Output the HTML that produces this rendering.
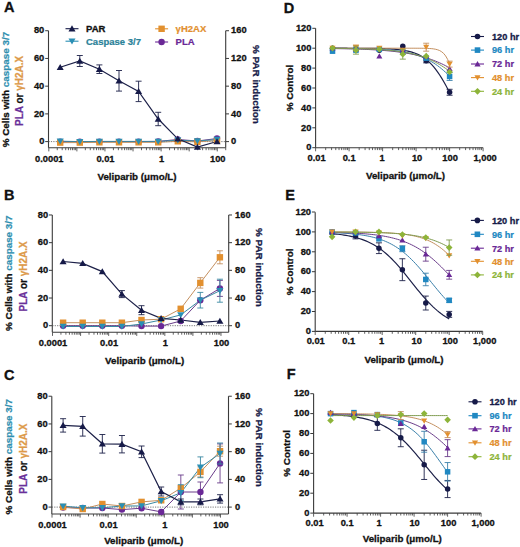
<!DOCTYPE html>
<html><head><meta charset="utf-8"><style>
html,body{margin:0;padding:0;background:#fff;width:520px;height:547px;overflow:hidden}
svg{display:block}
text{font-family:'Liberation Sans',sans-serif;font-weight:bold}
</style></head><body>
<svg width="520" height="547" viewBox="0 0 520 547">
<rect width="520" height="547" fill="#fff"/>
<text x="4" y="12.2" font-size="14.5" text-anchor="start" fill="#111" stroke="#111" stroke-width="0.3">A</text>
<line x1="48.5" y1="30.7" x2="48.5" y2="147.8" stroke="#3a3a3a" stroke-width="1.1"/>
<line x1="225.7" y1="30.7" x2="225.7" y2="147.8" stroke="#3a3a3a" stroke-width="1.1"/>
<line x1="48.5" y1="147.8" x2="225.7" y2="147.8" stroke="#3a3a3a" stroke-width="1.1"/>
<line x1="45.2" y1="141.6" x2="48.5" y2="141.6" stroke="#3a3a3a" stroke-width="1"/>
<text x="44.3" y="144.3" font-size="9.3" text-anchor="end" fill="#111" stroke="#111" stroke-width="0.3">0</text>
<line x1="45.2" y1="113.88" x2="48.5" y2="113.88" stroke="#3a3a3a" stroke-width="1"/>
<text x="44.3" y="116.58" font-size="9.3" text-anchor="end" fill="#111" stroke="#111" stroke-width="0.3">20</text>
<line x1="45.2" y1="86.16" x2="48.5" y2="86.16" stroke="#3a3a3a" stroke-width="1"/>
<text x="44.3" y="88.86" font-size="9.3" text-anchor="end" fill="#111" stroke="#111" stroke-width="0.3">40</text>
<line x1="45.2" y1="58.44" x2="48.5" y2="58.44" stroke="#3a3a3a" stroke-width="1"/>
<text x="44.3" y="61.14" font-size="9.3" text-anchor="end" fill="#111" stroke="#111" stroke-width="0.3">60</text>
<line x1="45.2" y1="30.72" x2="48.5" y2="30.72" stroke="#3a3a3a" stroke-width="1"/>
<text x="44.3" y="33.42" font-size="9.3" text-anchor="end" fill="#111" stroke="#111" stroke-width="0.3">80</text>
<line x1="225.7" y1="141.6" x2="229" y2="141.6" stroke="#3a3a3a" stroke-width="1"/>
<text x="231.1" y="144.3" font-size="9.3" text-anchor="start" fill="#111" stroke="#111" stroke-width="0.3">0</text>
<line x1="225.7" y1="113.88" x2="229" y2="113.88" stroke="#3a3a3a" stroke-width="1"/>
<text x="231.1" y="116.58" font-size="9.3" text-anchor="start" fill="#111" stroke="#111" stroke-width="0.3">40</text>
<line x1="225.7" y1="86.16" x2="229" y2="86.16" stroke="#3a3a3a" stroke-width="1"/>
<text x="231.1" y="88.86" font-size="9.3" text-anchor="start" fill="#111" stroke="#111" stroke-width="0.3">80</text>
<line x1="225.7" y1="58.44" x2="229" y2="58.44" stroke="#3a3a3a" stroke-width="1"/>
<text x="231.1" y="61.14" font-size="9.3" text-anchor="start" fill="#111" stroke="#111" stroke-width="0.3">120</text>
<line x1="225.7" y1="30.72" x2="229" y2="30.72" stroke="#3a3a3a" stroke-width="1"/>
<text x="231.1" y="33.42" font-size="9.3" text-anchor="start" fill="#111" stroke="#111" stroke-width="0.3">160</text>
<line x1="48.8" y1="147.8" x2="48.8" y2="151.4" stroke="#3a3a3a" stroke-width="0.8"/>
<line x1="57.25" y1="147.8" x2="57.25" y2="150.2" stroke="#3a3a3a" stroke-width="0.8"/>
<line x1="62.2" y1="147.8" x2="62.2" y2="150.2" stroke="#3a3a3a" stroke-width="0.8"/>
<line x1="65.71" y1="147.8" x2="65.71" y2="150.2" stroke="#3a3a3a" stroke-width="0.8"/>
<line x1="68.43" y1="147.8" x2="68.43" y2="150.2" stroke="#3a3a3a" stroke-width="0.8"/>
<line x1="70.65" y1="147.8" x2="70.65" y2="150.2" stroke="#3a3a3a" stroke-width="0.8"/>
<line x1="72.53" y1="147.8" x2="72.53" y2="150.2" stroke="#3a3a3a" stroke-width="0.8"/>
<line x1="74.16" y1="147.8" x2="74.16" y2="150.2" stroke="#3a3a3a" stroke-width="0.8"/>
<line x1="75.6" y1="147.8" x2="75.6" y2="150.2" stroke="#3a3a3a" stroke-width="0.8"/>
<line x1="76.88" y1="147.8" x2="76.88" y2="151.4" stroke="#3a3a3a" stroke-width="0.8"/>
<line x1="85.33" y1="147.8" x2="85.33" y2="150.2" stroke="#3a3a3a" stroke-width="0.8"/>
<line x1="90.28" y1="147.8" x2="90.28" y2="150.2" stroke="#3a3a3a" stroke-width="0.8"/>
<line x1="93.79" y1="147.8" x2="93.79" y2="150.2" stroke="#3a3a3a" stroke-width="0.8"/>
<line x1="96.51" y1="147.8" x2="96.51" y2="150.2" stroke="#3a3a3a" stroke-width="0.8"/>
<line x1="98.73" y1="147.8" x2="98.73" y2="150.2" stroke="#3a3a3a" stroke-width="0.8"/>
<line x1="100.61" y1="147.8" x2="100.61" y2="150.2" stroke="#3a3a3a" stroke-width="0.8"/>
<line x1="102.24" y1="147.8" x2="102.24" y2="150.2" stroke="#3a3a3a" stroke-width="0.8"/>
<line x1="103.68" y1="147.8" x2="103.68" y2="150.2" stroke="#3a3a3a" stroke-width="0.8"/>
<line x1="104.96" y1="147.8" x2="104.96" y2="151.4" stroke="#3a3a3a" stroke-width="0.8"/>
<line x1="113.41" y1="147.8" x2="113.41" y2="150.2" stroke="#3a3a3a" stroke-width="0.8"/>
<line x1="118.36" y1="147.8" x2="118.36" y2="150.2" stroke="#3a3a3a" stroke-width="0.8"/>
<line x1="121.87" y1="147.8" x2="121.87" y2="150.2" stroke="#3a3a3a" stroke-width="0.8"/>
<line x1="124.59" y1="147.8" x2="124.59" y2="150.2" stroke="#3a3a3a" stroke-width="0.8"/>
<line x1="126.81" y1="147.8" x2="126.81" y2="150.2" stroke="#3a3a3a" stroke-width="0.8"/>
<line x1="128.69" y1="147.8" x2="128.69" y2="150.2" stroke="#3a3a3a" stroke-width="0.8"/>
<line x1="130.32" y1="147.8" x2="130.32" y2="150.2" stroke="#3a3a3a" stroke-width="0.8"/>
<line x1="131.76" y1="147.8" x2="131.76" y2="150.2" stroke="#3a3a3a" stroke-width="0.8"/>
<line x1="133.04" y1="147.8" x2="133.04" y2="151.4" stroke="#3a3a3a" stroke-width="0.8"/>
<line x1="141.49" y1="147.8" x2="141.49" y2="150.2" stroke="#3a3a3a" stroke-width="0.8"/>
<line x1="146.44" y1="147.8" x2="146.44" y2="150.2" stroke="#3a3a3a" stroke-width="0.8"/>
<line x1="149.95" y1="147.8" x2="149.95" y2="150.2" stroke="#3a3a3a" stroke-width="0.8"/>
<line x1="152.67" y1="147.8" x2="152.67" y2="150.2" stroke="#3a3a3a" stroke-width="0.8"/>
<line x1="154.89" y1="147.8" x2="154.89" y2="150.2" stroke="#3a3a3a" stroke-width="0.8"/>
<line x1="156.77" y1="147.8" x2="156.77" y2="150.2" stroke="#3a3a3a" stroke-width="0.8"/>
<line x1="158.4" y1="147.8" x2="158.4" y2="150.2" stroke="#3a3a3a" stroke-width="0.8"/>
<line x1="159.84" y1="147.8" x2="159.84" y2="150.2" stroke="#3a3a3a" stroke-width="0.8"/>
<line x1="161.12" y1="147.8" x2="161.12" y2="151.4" stroke="#3a3a3a" stroke-width="0.8"/>
<line x1="169.57" y1="147.8" x2="169.57" y2="150.2" stroke="#3a3a3a" stroke-width="0.8"/>
<line x1="174.52" y1="147.8" x2="174.52" y2="150.2" stroke="#3a3a3a" stroke-width="0.8"/>
<line x1="178.03" y1="147.8" x2="178.03" y2="150.2" stroke="#3a3a3a" stroke-width="0.8"/>
<line x1="180.75" y1="147.8" x2="180.75" y2="150.2" stroke="#3a3a3a" stroke-width="0.8"/>
<line x1="182.97" y1="147.8" x2="182.97" y2="150.2" stroke="#3a3a3a" stroke-width="0.8"/>
<line x1="184.85" y1="147.8" x2="184.85" y2="150.2" stroke="#3a3a3a" stroke-width="0.8"/>
<line x1="186.48" y1="147.8" x2="186.48" y2="150.2" stroke="#3a3a3a" stroke-width="0.8"/>
<line x1="187.92" y1="147.8" x2="187.92" y2="150.2" stroke="#3a3a3a" stroke-width="0.8"/>
<line x1="189.2" y1="147.8" x2="189.2" y2="151.4" stroke="#3a3a3a" stroke-width="0.8"/>
<line x1="197.65" y1="147.8" x2="197.65" y2="150.2" stroke="#3a3a3a" stroke-width="0.8"/>
<line x1="202.6" y1="147.8" x2="202.6" y2="150.2" stroke="#3a3a3a" stroke-width="0.8"/>
<line x1="206.11" y1="147.8" x2="206.11" y2="150.2" stroke="#3a3a3a" stroke-width="0.8"/>
<line x1="208.83" y1="147.8" x2="208.83" y2="150.2" stroke="#3a3a3a" stroke-width="0.8"/>
<line x1="211.05" y1="147.8" x2="211.05" y2="150.2" stroke="#3a3a3a" stroke-width="0.8"/>
<line x1="212.93" y1="147.8" x2="212.93" y2="150.2" stroke="#3a3a3a" stroke-width="0.8"/>
<line x1="214.56" y1="147.8" x2="214.56" y2="150.2" stroke="#3a3a3a" stroke-width="0.8"/>
<line x1="216" y1="147.8" x2="216" y2="150.2" stroke="#3a3a3a" stroke-width="0.8"/>
<line x1="217.28" y1="147.8" x2="217.28" y2="151.4" stroke="#3a3a3a" stroke-width="0.8"/>
<line x1="225.73" y1="147.8" x2="225.73" y2="150.2" stroke="#3a3a3a" stroke-width="0.8"/>
<text x="49.3" y="162.4" font-size="9.3" text-anchor="middle" fill="#111" stroke="#111" stroke-width="0.3">0.0001</text>
<text x="105.46" y="162.4" font-size="9.3" text-anchor="middle" fill="#111" stroke="#111" stroke-width="0.3">0.01</text>
<text x="161.62" y="162.4" font-size="9.3" text-anchor="middle" fill="#111" stroke="#111" stroke-width="0.3">1</text>
<text x="217.78" y="162.4" font-size="9.3" text-anchor="middle" fill="#111" stroke="#111" stroke-width="0.3">100</text>
<text x="137" y="179.9" font-size="9.75" text-anchor="middle" fill="#111" stroke="#111" stroke-width="0.3">Veliparib (&#956;mo/L)</text>
<line x1="48.5" y1="141.6" x2="225.7" y2="141.6" stroke="#555" stroke-width="0.8" stroke-dasharray="1.2 1.2"/>
<text transform="translate(9 89.6) rotate(-90)" font-size="9.85" text-anchor="middle" fill="#111" stroke="#111" stroke-width="0.3">% Cells with <tspan fill="#2f8fb0" stroke="#2f8fb0" stroke-width="0.22">caspase 3/7</tspan></text>
<text transform="translate(23.3 90.9) rotate(-90)" font-size="10" text-anchor="middle" fill="#111" stroke="#111" stroke-width="0.3"><tspan fill="#6a309a" stroke="#6a309a" stroke-width="0.22">PLA</tspan> or <tspan fill="#dd9a4a" stroke="#dd9a4a" stroke-width="0.22">&#947;H2A.X</tspan></text>
<text transform="translate(253.2 84.4) rotate(90)" font-size="9.9" text-anchor="middle" fill="#161a48" stroke="#161a48" stroke-width="0.3">% PAR induction</text>
<polyline points="60.2,141.6 79.8,141.6 99.4,141.6 119,141.6 138.6,141.6 158.2,141.4 177.8,139.5 197.4,141 217,138.5" fill="none" stroke="#6a3c8a" stroke-width="1"/>
<polyline points="60.2,142.6 79.8,142.6 99.4,142.3 119,142.3 138.6,142.3 158.2,142.3 177.8,141.3 197.4,141.8 217,140.5" fill="none" stroke="#c49060" stroke-width="1"/>
<polyline points="60.2,141.2 79.8,141.6 99.4,141.4 119,141.4 138.6,141.4 158.2,141.4 177.8,140.2 197.4,141 217,139.5" fill="none" stroke="#3a88a2" stroke-width="1"/>
<polyline points="60.2,67.3 79.8,61 99.4,69.2 119,80.8 138.6,91.4 158.2,119 177.8,138.8 197.4,147 217,141.5" fill="none" stroke="#1c2048" stroke-width="1.2"/>
<circle cx="60.2" cy="141.6" r="3.2" fill="#6a2896"/>
<circle cx="79.8" cy="141.6" r="3.2" fill="#6a2896"/>
<circle cx="99.4" cy="141.6" r="3.2" fill="#6a2896"/>
<circle cx="119" cy="141.6" r="3.2" fill="#6a2896"/>
<circle cx="138.6" cy="141.6" r="3.2" fill="#6a2896"/>
<circle cx="158.2" cy="141.4" r="3.2" fill="#6a2896"/>
<circle cx="177.8" cy="139.5" r="3.2" fill="#6a2896"/>
<circle cx="197.4" cy="141" r="3.2" fill="#6a2896"/>
<circle cx="217" cy="138.5" r="3.2" fill="#6a2896"/>
<rect x="57" y="139.4" width="6.4" height="6.4" fill="#e2902f"/>
<rect x="76.6" y="139.4" width="6.4" height="6.4" fill="#e2902f"/>
<rect x="96.2" y="139.1" width="6.4" height="6.4" fill="#e2902f"/>
<rect x="115.8" y="139.1" width="6.4" height="6.4" fill="#e2902f"/>
<rect x="135.4" y="139.1" width="6.4" height="6.4" fill="#e2902f"/>
<rect x="155" y="139.1" width="6.4" height="6.4" fill="#e2902f"/>
<rect x="174.6" y="138.1" width="6.4" height="6.4" fill="#e2902f"/>
<rect x="194.2" y="138.6" width="6.4" height="6.4" fill="#e2902f"/>
<rect x="213.8" y="137.3" width="6.4" height="6.4" fill="#e2902f"/>
<path d="M60.2 144.56L63.72 138.48L56.68 138.48Z" fill="#2a8fb5"/>
<path d="M79.8 144.96L83.32 138.88L76.28 138.88Z" fill="#2a8fb5"/>
<path d="M99.4 144.76L102.92 138.68L95.88 138.68Z" fill="#2a8fb5"/>
<path d="M119 144.76L122.52 138.68L115.48 138.68Z" fill="#2a8fb5"/>
<path d="M138.6 144.76L142.12 138.68L135.08 138.68Z" fill="#2a8fb5"/>
<path d="M158.2 144.76L161.72 138.68L154.68 138.68Z" fill="#2a8fb5"/>
<path d="M177.8 143.56L181.32 137.48L174.28 137.48Z" fill="#2a8fb5"/>
<path d="M197.4 144.36L200.92 138.28L193.88 138.28Z" fill="#2a8fb5"/>
<path d="M217 142.86L220.52 136.78L213.48 136.78Z" fill="#2a8fb5"/>
<line x1="79.8" y1="55.5" x2="79.8" y2="66.5" stroke="#1c2048" stroke-width="0.9"/>
<line x1="76.8" y1="55.5" x2="82.8" y2="55.5" stroke="#1c2048" stroke-width="0.9"/>
<line x1="76.8" y1="66.5" x2="82.8" y2="66.5" stroke="#1c2048" stroke-width="0.9"/>
<line x1="99.4" y1="64.9" x2="99.4" y2="73.5" stroke="#1c2048" stroke-width="0.9"/>
<line x1="96.4" y1="64.9" x2="102.4" y2="64.9" stroke="#1c2048" stroke-width="0.9"/>
<line x1="96.4" y1="73.5" x2="102.4" y2="73.5" stroke="#1c2048" stroke-width="0.9"/>
<line x1="119" y1="70.5" x2="119" y2="91.1" stroke="#1c2048" stroke-width="0.9"/>
<line x1="116" y1="70.5" x2="122" y2="70.5" stroke="#1c2048" stroke-width="0.9"/>
<line x1="116" y1="91.1" x2="122" y2="91.1" stroke="#1c2048" stroke-width="0.9"/>
<line x1="138.6" y1="81.2" x2="138.6" y2="101.6" stroke="#1c2048" stroke-width="0.9"/>
<line x1="135.6" y1="81.2" x2="141.6" y2="81.2" stroke="#1c2048" stroke-width="0.9"/>
<line x1="135.6" y1="101.6" x2="141.6" y2="101.6" stroke="#1c2048" stroke-width="0.9"/>
<line x1="158.2" y1="112.3" x2="158.2" y2="125.7" stroke="#1c2048" stroke-width="0.9"/>
<line x1="155.2" y1="112.3" x2="161.2" y2="112.3" stroke="#1c2048" stroke-width="0.9"/>
<line x1="155.2" y1="125.7" x2="161.2" y2="125.7" stroke="#1c2048" stroke-width="0.9"/>
<path d="M60.2 63.94L63.72 70.02L56.68 70.02Z" fill="#161a48"/>
<path d="M79.8 57.64L83.32 63.72L76.28 63.72Z" fill="#161a48"/>
<path d="M99.4 65.84L102.92 71.92L95.88 71.92Z" fill="#161a48"/>
<path d="M119 77.44L122.52 83.52L115.48 83.52Z" fill="#161a48"/>
<path d="M138.6 88.04L142.12 94.12L135.08 94.12Z" fill="#161a48"/>
<path d="M158.2 115.64L161.72 121.72L154.68 121.72Z" fill="#161a48"/>
<path d="M177.8 135.44L181.32 141.52L174.28 141.52Z" fill="#161a48"/>
<path d="M197.4 143.64L200.92 149.72L193.88 149.72Z" fill="#161a48"/>
<path d="M217 138.14L220.52 144.22L213.48 144.22Z" fill="#161a48"/>
<text x="4" y="200.2" font-size="14.5" text-anchor="start" fill="#111" stroke="#111" stroke-width="0.3">B</text>
<line x1="52.3" y1="215" x2="52.3" y2="332.3" stroke="#3a3a3a" stroke-width="1.1"/>
<line x1="228.7" y1="215" x2="228.7" y2="332.3" stroke="#3a3a3a" stroke-width="1.1"/>
<line x1="52.3" y1="332.3" x2="228.7" y2="332.3" stroke="#3a3a3a" stroke-width="1.1"/>
<line x1="49" y1="325.7" x2="52.3" y2="325.7" stroke="#3a3a3a" stroke-width="1"/>
<text x="48.1" y="328.4" font-size="9.3" text-anchor="end" fill="#111" stroke="#111" stroke-width="0.3">0</text>
<line x1="49" y1="298.02" x2="52.3" y2="298.02" stroke="#3a3a3a" stroke-width="1"/>
<text x="48.1" y="300.72" font-size="9.3" text-anchor="end" fill="#111" stroke="#111" stroke-width="0.3">20</text>
<line x1="49" y1="270.34" x2="52.3" y2="270.34" stroke="#3a3a3a" stroke-width="1"/>
<text x="48.1" y="273.04" font-size="9.3" text-anchor="end" fill="#111" stroke="#111" stroke-width="0.3">40</text>
<line x1="49" y1="242.66" x2="52.3" y2="242.66" stroke="#3a3a3a" stroke-width="1"/>
<text x="48.1" y="245.36" font-size="9.3" text-anchor="end" fill="#111" stroke="#111" stroke-width="0.3">60</text>
<line x1="49" y1="214.98" x2="52.3" y2="214.98" stroke="#3a3a3a" stroke-width="1"/>
<text x="48.1" y="217.68" font-size="9.3" text-anchor="end" fill="#111" stroke="#111" stroke-width="0.3">80</text>
<line x1="228.7" y1="325.7" x2="232" y2="325.7" stroke="#3a3a3a" stroke-width="1"/>
<text x="235.1" y="328.4" font-size="9.3" text-anchor="start" fill="#111" stroke="#111" stroke-width="0.3">0</text>
<line x1="228.7" y1="298.02" x2="232" y2="298.02" stroke="#3a3a3a" stroke-width="1"/>
<text x="235.1" y="300.72" font-size="9.3" text-anchor="start" fill="#111" stroke="#111" stroke-width="0.3">40</text>
<line x1="228.7" y1="270.34" x2="232" y2="270.34" stroke="#3a3a3a" stroke-width="1"/>
<text x="235.1" y="273.04" font-size="9.3" text-anchor="start" fill="#111" stroke="#111" stroke-width="0.3">80</text>
<line x1="228.7" y1="242.66" x2="232" y2="242.66" stroke="#3a3a3a" stroke-width="1"/>
<text x="235.1" y="245.36" font-size="9.3" text-anchor="start" fill="#111" stroke="#111" stroke-width="0.3">120</text>
<line x1="228.7" y1="214.98" x2="232" y2="214.98" stroke="#3a3a3a" stroke-width="1"/>
<text x="235.1" y="217.68" font-size="9.3" text-anchor="start" fill="#111" stroke="#111" stroke-width="0.3">160</text>
<line x1="52.5" y1="332.3" x2="52.5" y2="335.9" stroke="#3a3a3a" stroke-width="0.8"/>
<line x1="60.95" y1="332.3" x2="60.95" y2="334.7" stroke="#3a3a3a" stroke-width="0.8"/>
<line x1="65.9" y1="332.3" x2="65.9" y2="334.7" stroke="#3a3a3a" stroke-width="0.8"/>
<line x1="69.41" y1="332.3" x2="69.41" y2="334.7" stroke="#3a3a3a" stroke-width="0.8"/>
<line x1="72.13" y1="332.3" x2="72.13" y2="334.7" stroke="#3a3a3a" stroke-width="0.8"/>
<line x1="74.35" y1="332.3" x2="74.35" y2="334.7" stroke="#3a3a3a" stroke-width="0.8"/>
<line x1="76.23" y1="332.3" x2="76.23" y2="334.7" stroke="#3a3a3a" stroke-width="0.8"/>
<line x1="77.86" y1="332.3" x2="77.86" y2="334.7" stroke="#3a3a3a" stroke-width="0.8"/>
<line x1="79.3" y1="332.3" x2="79.3" y2="334.7" stroke="#3a3a3a" stroke-width="0.8"/>
<line x1="80.58" y1="332.3" x2="80.58" y2="335.9" stroke="#3a3a3a" stroke-width="0.8"/>
<line x1="89.03" y1="332.3" x2="89.03" y2="334.7" stroke="#3a3a3a" stroke-width="0.8"/>
<line x1="93.98" y1="332.3" x2="93.98" y2="334.7" stroke="#3a3a3a" stroke-width="0.8"/>
<line x1="97.49" y1="332.3" x2="97.49" y2="334.7" stroke="#3a3a3a" stroke-width="0.8"/>
<line x1="100.21" y1="332.3" x2="100.21" y2="334.7" stroke="#3a3a3a" stroke-width="0.8"/>
<line x1="102.43" y1="332.3" x2="102.43" y2="334.7" stroke="#3a3a3a" stroke-width="0.8"/>
<line x1="104.31" y1="332.3" x2="104.31" y2="334.7" stroke="#3a3a3a" stroke-width="0.8"/>
<line x1="105.94" y1="332.3" x2="105.94" y2="334.7" stroke="#3a3a3a" stroke-width="0.8"/>
<line x1="107.38" y1="332.3" x2="107.38" y2="334.7" stroke="#3a3a3a" stroke-width="0.8"/>
<line x1="108.66" y1="332.3" x2="108.66" y2="335.9" stroke="#3a3a3a" stroke-width="0.8"/>
<line x1="117.11" y1="332.3" x2="117.11" y2="334.7" stroke="#3a3a3a" stroke-width="0.8"/>
<line x1="122.06" y1="332.3" x2="122.06" y2="334.7" stroke="#3a3a3a" stroke-width="0.8"/>
<line x1="125.57" y1="332.3" x2="125.57" y2="334.7" stroke="#3a3a3a" stroke-width="0.8"/>
<line x1="128.29" y1="332.3" x2="128.29" y2="334.7" stroke="#3a3a3a" stroke-width="0.8"/>
<line x1="130.51" y1="332.3" x2="130.51" y2="334.7" stroke="#3a3a3a" stroke-width="0.8"/>
<line x1="132.39" y1="332.3" x2="132.39" y2="334.7" stroke="#3a3a3a" stroke-width="0.8"/>
<line x1="134.02" y1="332.3" x2="134.02" y2="334.7" stroke="#3a3a3a" stroke-width="0.8"/>
<line x1="135.46" y1="332.3" x2="135.46" y2="334.7" stroke="#3a3a3a" stroke-width="0.8"/>
<line x1="136.74" y1="332.3" x2="136.74" y2="335.9" stroke="#3a3a3a" stroke-width="0.8"/>
<line x1="145.19" y1="332.3" x2="145.19" y2="334.7" stroke="#3a3a3a" stroke-width="0.8"/>
<line x1="150.14" y1="332.3" x2="150.14" y2="334.7" stroke="#3a3a3a" stroke-width="0.8"/>
<line x1="153.65" y1="332.3" x2="153.65" y2="334.7" stroke="#3a3a3a" stroke-width="0.8"/>
<line x1="156.37" y1="332.3" x2="156.37" y2="334.7" stroke="#3a3a3a" stroke-width="0.8"/>
<line x1="158.59" y1="332.3" x2="158.59" y2="334.7" stroke="#3a3a3a" stroke-width="0.8"/>
<line x1="160.47" y1="332.3" x2="160.47" y2="334.7" stroke="#3a3a3a" stroke-width="0.8"/>
<line x1="162.1" y1="332.3" x2="162.1" y2="334.7" stroke="#3a3a3a" stroke-width="0.8"/>
<line x1="163.54" y1="332.3" x2="163.54" y2="334.7" stroke="#3a3a3a" stroke-width="0.8"/>
<line x1="164.82" y1="332.3" x2="164.82" y2="335.9" stroke="#3a3a3a" stroke-width="0.8"/>
<line x1="173.27" y1="332.3" x2="173.27" y2="334.7" stroke="#3a3a3a" stroke-width="0.8"/>
<line x1="178.22" y1="332.3" x2="178.22" y2="334.7" stroke="#3a3a3a" stroke-width="0.8"/>
<line x1="181.73" y1="332.3" x2="181.73" y2="334.7" stroke="#3a3a3a" stroke-width="0.8"/>
<line x1="184.45" y1="332.3" x2="184.45" y2="334.7" stroke="#3a3a3a" stroke-width="0.8"/>
<line x1="186.67" y1="332.3" x2="186.67" y2="334.7" stroke="#3a3a3a" stroke-width="0.8"/>
<line x1="188.55" y1="332.3" x2="188.55" y2="334.7" stroke="#3a3a3a" stroke-width="0.8"/>
<line x1="190.18" y1="332.3" x2="190.18" y2="334.7" stroke="#3a3a3a" stroke-width="0.8"/>
<line x1="191.62" y1="332.3" x2="191.62" y2="334.7" stroke="#3a3a3a" stroke-width="0.8"/>
<line x1="192.9" y1="332.3" x2="192.9" y2="335.9" stroke="#3a3a3a" stroke-width="0.8"/>
<line x1="201.35" y1="332.3" x2="201.35" y2="334.7" stroke="#3a3a3a" stroke-width="0.8"/>
<line x1="206.3" y1="332.3" x2="206.3" y2="334.7" stroke="#3a3a3a" stroke-width="0.8"/>
<line x1="209.81" y1="332.3" x2="209.81" y2="334.7" stroke="#3a3a3a" stroke-width="0.8"/>
<line x1="212.53" y1="332.3" x2="212.53" y2="334.7" stroke="#3a3a3a" stroke-width="0.8"/>
<line x1="214.75" y1="332.3" x2="214.75" y2="334.7" stroke="#3a3a3a" stroke-width="0.8"/>
<line x1="216.63" y1="332.3" x2="216.63" y2="334.7" stroke="#3a3a3a" stroke-width="0.8"/>
<line x1="218.26" y1="332.3" x2="218.26" y2="334.7" stroke="#3a3a3a" stroke-width="0.8"/>
<line x1="219.7" y1="332.3" x2="219.7" y2="334.7" stroke="#3a3a3a" stroke-width="0.8"/>
<line x1="220.98" y1="332.3" x2="220.98" y2="335.9" stroke="#3a3a3a" stroke-width="0.8"/>
<text x="53" y="345.9" font-size="9.3" text-anchor="middle" fill="#111" stroke="#111" stroke-width="0.3">0.0001</text>
<text x="109.16" y="345.9" font-size="9.3" text-anchor="middle" fill="#111" stroke="#111" stroke-width="0.3">0.01</text>
<text x="165.32" y="345.9" font-size="9.3" text-anchor="middle" fill="#111" stroke="#111" stroke-width="0.3">1</text>
<text x="221.48" y="345.9" font-size="9.3" text-anchor="middle" fill="#111" stroke="#111" stroke-width="0.3">100</text>
<text x="144.6" y="364.3" font-size="9.75" text-anchor="middle" fill="#111" stroke="#111" stroke-width="0.3">Veliparib (&#956;mo/L)</text>
<line x1="52.3" y1="325.7" x2="228.7" y2="325.7" stroke="#555" stroke-width="0.8" stroke-dasharray="1.2 1.2"/>
<text transform="translate(11.5 273.2) rotate(-90)" font-size="9.85" text-anchor="middle" fill="#111" stroke="#111" stroke-width="0.3">% Cells with <tspan fill="#2f8fb0" stroke="#2f8fb0" stroke-width="0.22">caspase 3/7</tspan></text>
<text transform="translate(26.7 276.4) rotate(-90)" font-size="10" text-anchor="middle" fill="#111" stroke="#111" stroke-width="0.3"><tspan fill="#6a309a" stroke="#6a309a" stroke-width="0.22">PLA</tspan> or <tspan fill="#dd9a4a" stroke="#dd9a4a" stroke-width="0.22">&#947;H2A.X</tspan></text>
<text transform="translate(256.2 267.5) rotate(90)" font-size="9.9" text-anchor="middle" fill="#161a48" stroke="#161a48" stroke-width="0.3">% PAR induction</text>
<polyline points="63.1,325.7 82.7,325.7 102.3,325.7 121.9,325.7 141.5,326.1 161.1,326.1 180.7,321 200.3,300.2 219.9,288.4" fill="none" stroke="#6a3c8a" stroke-width="1"/>
<polyline points="63.1,322.7 82.7,322.7 102.3,322.7 121.9,322.7 141.5,320 161.1,319.2 180.7,308.8 200.3,282.9 219.9,257.3" fill="none" stroke="#c49060" stroke-width="1"/>
<polyline points="63.1,326.5 82.7,326.5 102.3,326.5 121.9,326.5 141.5,324 161.1,320 180.7,314.9 200.3,300.2 219.9,290.7" fill="none" stroke="#3a88a2" stroke-width="1"/>
<polyline points="63.1,261.5 82.7,263.4 102.3,271.6 121.9,294.1 141.5,310.2 161.1,318.3 180.7,320 200.3,322.3 219.9,321" fill="none" stroke="#1c2048" stroke-width="1.2"/>
<line x1="219.9" y1="280.4" x2="219.9" y2="296.4" stroke="#6a3c8a" stroke-width="0.9"/>
<line x1="216.9" y1="280.4" x2="222.9" y2="280.4" stroke="#6a3c8a" stroke-width="0.9"/>
<line x1="216.9" y1="296.4" x2="222.9" y2="296.4" stroke="#6a3c8a" stroke-width="0.9"/>
<circle cx="63.1" cy="325.7" r="3.2" fill="#6a2896"/>
<circle cx="82.7" cy="325.7" r="3.2" fill="#6a2896"/>
<circle cx="102.3" cy="325.7" r="3.2" fill="#6a2896"/>
<circle cx="121.9" cy="325.7" r="3.2" fill="#6a2896"/>
<circle cx="141.5" cy="326.1" r="3.2" fill="#6a2896"/>
<circle cx="161.1" cy="326.1" r="3.2" fill="#6a2896"/>
<circle cx="180.7" cy="321" r="3.2" fill="#6a2896"/>
<circle cx="200.3" cy="300.2" r="3.2" fill="#6a2896"/>
<circle cx="219.9" cy="288.4" r="3.2" fill="#6a2896"/>
<line x1="200.3" y1="277.7" x2="200.3" y2="288.1" stroke="#c49060" stroke-width="0.9"/>
<line x1="197.3" y1="277.7" x2="203.3" y2="277.7" stroke="#c49060" stroke-width="0.9"/>
<line x1="197.3" y1="288.1" x2="203.3" y2="288.1" stroke="#c49060" stroke-width="0.9"/>
<line x1="219.9" y1="250.8" x2="219.9" y2="263.8" stroke="#c49060" stroke-width="0.9"/>
<line x1="216.9" y1="250.8" x2="222.9" y2="250.8" stroke="#c49060" stroke-width="0.9"/>
<line x1="216.9" y1="263.8" x2="222.9" y2="263.8" stroke="#c49060" stroke-width="0.9"/>
<rect x="59.9" y="319.5" width="6.4" height="6.4" fill="#e2902f"/>
<rect x="79.5" y="319.5" width="6.4" height="6.4" fill="#e2902f"/>
<rect x="99.1" y="319.5" width="6.4" height="6.4" fill="#e2902f"/>
<rect x="118.7" y="319.5" width="6.4" height="6.4" fill="#e2902f"/>
<rect x="138.3" y="316.8" width="6.4" height="6.4" fill="#e2902f"/>
<rect x="157.9" y="316" width="6.4" height="6.4" fill="#e2902f"/>
<rect x="177.5" y="305.6" width="6.4" height="6.4" fill="#e2902f"/>
<rect x="197.1" y="279.7" width="6.4" height="6.4" fill="#e2902f"/>
<rect x="216.7" y="254.1" width="6.4" height="6.4" fill="#e2902f"/>
<line x1="200.3" y1="292.4" x2="200.3" y2="308" stroke="#3a88a2" stroke-width="0.9"/>
<line x1="197.3" y1="292.4" x2="203.3" y2="292.4" stroke="#3a88a2" stroke-width="0.9"/>
<line x1="197.3" y1="308" x2="203.3" y2="308" stroke="#3a88a2" stroke-width="0.9"/>
<line x1="219.9" y1="279.2" x2="219.9" y2="302.2" stroke="#3a88a2" stroke-width="0.9"/>
<line x1="216.9" y1="279.2" x2="222.9" y2="279.2" stroke="#3a88a2" stroke-width="0.9"/>
<line x1="216.9" y1="302.2" x2="222.9" y2="302.2" stroke="#3a88a2" stroke-width="0.9"/>
<path d="M63.1 329.86L66.62 323.78L59.58 323.78Z" fill="#2a8fb5"/>
<path d="M82.7 329.86L86.22 323.78L79.18 323.78Z" fill="#2a8fb5"/>
<path d="M102.3 329.86L105.82 323.78L98.78 323.78Z" fill="#2a8fb5"/>
<path d="M121.9 329.86L125.42 323.78L118.38 323.78Z" fill="#2a8fb5"/>
<path d="M141.5 327.36L145.02 321.28L137.98 321.28Z" fill="#2a8fb5"/>
<path d="M161.1 323.36L164.62 317.28L157.58 317.28Z" fill="#2a8fb5"/>
<path d="M180.7 318.26L184.22 312.18L177.18 312.18Z" fill="#2a8fb5"/>
<path d="M200.3 303.56L203.82 297.48L196.78 297.48Z" fill="#2a8fb5"/>
<path d="M219.9 294.06L223.42 287.98L216.38 287.98Z" fill="#2a8fb5"/>
<line x1="121.9" y1="290.6" x2="121.9" y2="297.6" stroke="#1c2048" stroke-width="0.9"/>
<line x1="118.9" y1="290.6" x2="124.9" y2="290.6" stroke="#1c2048" stroke-width="0.9"/>
<line x1="118.9" y1="297.6" x2="124.9" y2="297.6" stroke="#1c2048" stroke-width="0.9"/>
<line x1="141.5" y1="305.7" x2="141.5" y2="314.7" stroke="#1c2048" stroke-width="0.9"/>
<line x1="138.5" y1="305.7" x2="144.5" y2="305.7" stroke="#1c2048" stroke-width="0.9"/>
<line x1="138.5" y1="314.7" x2="144.5" y2="314.7" stroke="#1c2048" stroke-width="0.9"/>
<path d="M63.1 258.14L66.62 264.22L59.58 264.22Z" fill="#161a48"/>
<path d="M82.7 260.04L86.22 266.12L79.18 266.12Z" fill="#161a48"/>
<path d="M102.3 268.24L105.82 274.32L98.78 274.32Z" fill="#161a48"/>
<path d="M121.9 290.74L125.42 296.82L118.38 296.82Z" fill="#161a48"/>
<path d="M141.5 306.84L145.02 312.92L137.98 312.92Z" fill="#161a48"/>
<path d="M161.1 314.94L164.62 321.02L157.58 321.02Z" fill="#161a48"/>
<path d="M180.7 316.64L184.22 322.72L177.18 322.72Z" fill="#161a48"/>
<path d="M200.3 318.94L203.82 325.02L196.78 325.02Z" fill="#161a48"/>
<path d="M219.9 317.64L223.42 323.72L216.38 323.72Z" fill="#161a48"/>
<text x="4" y="379.6" font-size="14.5" text-anchor="start" fill="#111" stroke="#111" stroke-width="0.3">C</text>
<line x1="51.8" y1="396.2" x2="51.8" y2="514" stroke="#3a3a3a" stroke-width="1.1"/>
<line x1="228.5" y1="396.2" x2="228.5" y2="514" stroke="#3a3a3a" stroke-width="1.1"/>
<line x1="51.8" y1="514" x2="228.5" y2="514" stroke="#3a3a3a" stroke-width="1.1"/>
<line x1="48.5" y1="507.1" x2="51.8" y2="507.1" stroke="#3a3a3a" stroke-width="1"/>
<text x="47.6" y="509.8" font-size="9.3" text-anchor="end" fill="#111" stroke="#111" stroke-width="0.3">0</text>
<line x1="48.5" y1="479.38" x2="51.8" y2="479.38" stroke="#3a3a3a" stroke-width="1"/>
<text x="47.6" y="482.08" font-size="9.3" text-anchor="end" fill="#111" stroke="#111" stroke-width="0.3">20</text>
<line x1="48.5" y1="451.66" x2="51.8" y2="451.66" stroke="#3a3a3a" stroke-width="1"/>
<text x="47.6" y="454.36" font-size="9.3" text-anchor="end" fill="#111" stroke="#111" stroke-width="0.3">40</text>
<line x1="48.5" y1="423.94" x2="51.8" y2="423.94" stroke="#3a3a3a" stroke-width="1"/>
<text x="47.6" y="426.64" font-size="9.3" text-anchor="end" fill="#111" stroke="#111" stroke-width="0.3">60</text>
<line x1="48.5" y1="396.22" x2="51.8" y2="396.22" stroke="#3a3a3a" stroke-width="1"/>
<text x="47.6" y="398.92" font-size="9.3" text-anchor="end" fill="#111" stroke="#111" stroke-width="0.3">80</text>
<line x1="228.5" y1="507.1" x2="231.8" y2="507.1" stroke="#3a3a3a" stroke-width="1"/>
<text x="234.9" y="509.8" font-size="9.3" text-anchor="start" fill="#111" stroke="#111" stroke-width="0.3">0</text>
<line x1="228.5" y1="479.38" x2="231.8" y2="479.38" stroke="#3a3a3a" stroke-width="1"/>
<text x="234.9" y="482.08" font-size="9.3" text-anchor="start" fill="#111" stroke="#111" stroke-width="0.3">40</text>
<line x1="228.5" y1="451.66" x2="231.8" y2="451.66" stroke="#3a3a3a" stroke-width="1"/>
<text x="234.9" y="454.36" font-size="9.3" text-anchor="start" fill="#111" stroke="#111" stroke-width="0.3">80</text>
<line x1="228.5" y1="423.94" x2="231.8" y2="423.94" stroke="#3a3a3a" stroke-width="1"/>
<text x="234.9" y="426.64" font-size="9.3" text-anchor="start" fill="#111" stroke="#111" stroke-width="0.3">120</text>
<line x1="228.5" y1="396.22" x2="231.8" y2="396.22" stroke="#3a3a3a" stroke-width="1"/>
<text x="234.9" y="398.92" font-size="9.3" text-anchor="start" fill="#111" stroke="#111" stroke-width="0.3">160</text>
<line x1="52" y1="514" x2="52" y2="517.6" stroke="#3a3a3a" stroke-width="0.8"/>
<line x1="60.45" y1="514" x2="60.45" y2="516.4" stroke="#3a3a3a" stroke-width="0.8"/>
<line x1="65.4" y1="514" x2="65.4" y2="516.4" stroke="#3a3a3a" stroke-width="0.8"/>
<line x1="68.91" y1="514" x2="68.91" y2="516.4" stroke="#3a3a3a" stroke-width="0.8"/>
<line x1="71.63" y1="514" x2="71.63" y2="516.4" stroke="#3a3a3a" stroke-width="0.8"/>
<line x1="73.85" y1="514" x2="73.85" y2="516.4" stroke="#3a3a3a" stroke-width="0.8"/>
<line x1="75.73" y1="514" x2="75.73" y2="516.4" stroke="#3a3a3a" stroke-width="0.8"/>
<line x1="77.36" y1="514" x2="77.36" y2="516.4" stroke="#3a3a3a" stroke-width="0.8"/>
<line x1="78.8" y1="514" x2="78.8" y2="516.4" stroke="#3a3a3a" stroke-width="0.8"/>
<line x1="80.08" y1="514" x2="80.08" y2="517.6" stroke="#3a3a3a" stroke-width="0.8"/>
<line x1="88.53" y1="514" x2="88.53" y2="516.4" stroke="#3a3a3a" stroke-width="0.8"/>
<line x1="93.48" y1="514" x2="93.48" y2="516.4" stroke="#3a3a3a" stroke-width="0.8"/>
<line x1="96.99" y1="514" x2="96.99" y2="516.4" stroke="#3a3a3a" stroke-width="0.8"/>
<line x1="99.71" y1="514" x2="99.71" y2="516.4" stroke="#3a3a3a" stroke-width="0.8"/>
<line x1="101.93" y1="514" x2="101.93" y2="516.4" stroke="#3a3a3a" stroke-width="0.8"/>
<line x1="103.81" y1="514" x2="103.81" y2="516.4" stroke="#3a3a3a" stroke-width="0.8"/>
<line x1="105.44" y1="514" x2="105.44" y2="516.4" stroke="#3a3a3a" stroke-width="0.8"/>
<line x1="106.88" y1="514" x2="106.88" y2="516.4" stroke="#3a3a3a" stroke-width="0.8"/>
<line x1="108.16" y1="514" x2="108.16" y2="517.6" stroke="#3a3a3a" stroke-width="0.8"/>
<line x1="116.61" y1="514" x2="116.61" y2="516.4" stroke="#3a3a3a" stroke-width="0.8"/>
<line x1="121.56" y1="514" x2="121.56" y2="516.4" stroke="#3a3a3a" stroke-width="0.8"/>
<line x1="125.07" y1="514" x2="125.07" y2="516.4" stroke="#3a3a3a" stroke-width="0.8"/>
<line x1="127.79" y1="514" x2="127.79" y2="516.4" stroke="#3a3a3a" stroke-width="0.8"/>
<line x1="130.01" y1="514" x2="130.01" y2="516.4" stroke="#3a3a3a" stroke-width="0.8"/>
<line x1="131.89" y1="514" x2="131.89" y2="516.4" stroke="#3a3a3a" stroke-width="0.8"/>
<line x1="133.52" y1="514" x2="133.52" y2="516.4" stroke="#3a3a3a" stroke-width="0.8"/>
<line x1="134.96" y1="514" x2="134.96" y2="516.4" stroke="#3a3a3a" stroke-width="0.8"/>
<line x1="136.24" y1="514" x2="136.24" y2="517.6" stroke="#3a3a3a" stroke-width="0.8"/>
<line x1="144.69" y1="514" x2="144.69" y2="516.4" stroke="#3a3a3a" stroke-width="0.8"/>
<line x1="149.64" y1="514" x2="149.64" y2="516.4" stroke="#3a3a3a" stroke-width="0.8"/>
<line x1="153.15" y1="514" x2="153.15" y2="516.4" stroke="#3a3a3a" stroke-width="0.8"/>
<line x1="155.87" y1="514" x2="155.87" y2="516.4" stroke="#3a3a3a" stroke-width="0.8"/>
<line x1="158.09" y1="514" x2="158.09" y2="516.4" stroke="#3a3a3a" stroke-width="0.8"/>
<line x1="159.97" y1="514" x2="159.97" y2="516.4" stroke="#3a3a3a" stroke-width="0.8"/>
<line x1="161.6" y1="514" x2="161.6" y2="516.4" stroke="#3a3a3a" stroke-width="0.8"/>
<line x1="163.04" y1="514" x2="163.04" y2="516.4" stroke="#3a3a3a" stroke-width="0.8"/>
<line x1="164.32" y1="514" x2="164.32" y2="517.6" stroke="#3a3a3a" stroke-width="0.8"/>
<line x1="172.77" y1="514" x2="172.77" y2="516.4" stroke="#3a3a3a" stroke-width="0.8"/>
<line x1="177.72" y1="514" x2="177.72" y2="516.4" stroke="#3a3a3a" stroke-width="0.8"/>
<line x1="181.23" y1="514" x2="181.23" y2="516.4" stroke="#3a3a3a" stroke-width="0.8"/>
<line x1="183.95" y1="514" x2="183.95" y2="516.4" stroke="#3a3a3a" stroke-width="0.8"/>
<line x1="186.17" y1="514" x2="186.17" y2="516.4" stroke="#3a3a3a" stroke-width="0.8"/>
<line x1="188.05" y1="514" x2="188.05" y2="516.4" stroke="#3a3a3a" stroke-width="0.8"/>
<line x1="189.68" y1="514" x2="189.68" y2="516.4" stroke="#3a3a3a" stroke-width="0.8"/>
<line x1="191.12" y1="514" x2="191.12" y2="516.4" stroke="#3a3a3a" stroke-width="0.8"/>
<line x1="192.4" y1="514" x2="192.4" y2="517.6" stroke="#3a3a3a" stroke-width="0.8"/>
<line x1="200.85" y1="514" x2="200.85" y2="516.4" stroke="#3a3a3a" stroke-width="0.8"/>
<line x1="205.8" y1="514" x2="205.8" y2="516.4" stroke="#3a3a3a" stroke-width="0.8"/>
<line x1="209.31" y1="514" x2="209.31" y2="516.4" stroke="#3a3a3a" stroke-width="0.8"/>
<line x1="212.03" y1="514" x2="212.03" y2="516.4" stroke="#3a3a3a" stroke-width="0.8"/>
<line x1="214.25" y1="514" x2="214.25" y2="516.4" stroke="#3a3a3a" stroke-width="0.8"/>
<line x1="216.13" y1="514" x2="216.13" y2="516.4" stroke="#3a3a3a" stroke-width="0.8"/>
<line x1="217.76" y1="514" x2="217.76" y2="516.4" stroke="#3a3a3a" stroke-width="0.8"/>
<line x1="219.2" y1="514" x2="219.2" y2="516.4" stroke="#3a3a3a" stroke-width="0.8"/>
<line x1="220.48" y1="514" x2="220.48" y2="517.6" stroke="#3a3a3a" stroke-width="0.8"/>
<text x="52.5" y="528.1" font-size="9.3" text-anchor="middle" fill="#111" stroke="#111" stroke-width="0.3">0.0001</text>
<text x="108.66" y="528.1" font-size="9.3" text-anchor="middle" fill="#111" stroke="#111" stroke-width="0.3">0.01</text>
<text x="164.82" y="528.1" font-size="9.3" text-anchor="middle" fill="#111" stroke="#111" stroke-width="0.3">1</text>
<text x="220.98" y="528.1" font-size="9.3" text-anchor="middle" fill="#111" stroke="#111" stroke-width="0.3">100</text>
<text x="143.7" y="543.7" font-size="9.75" text-anchor="middle" fill="#111" stroke="#111" stroke-width="0.3">Veliparib (&#956;mo/L)</text>
<line x1="51.8" y1="507.1" x2="228.5" y2="507.1" stroke="#555" stroke-width="0.8" stroke-dasharray="1.2 1.2"/>
<text transform="translate(12 456.7) rotate(-90)" font-size="9.85" text-anchor="middle" fill="#111" stroke="#111" stroke-width="0.3">% Cells with <tspan fill="#2f8fb0" stroke="#2f8fb0" stroke-width="0.22">caspase 3/7</tspan></text>
<text transform="translate(27 458.6) rotate(-90)" font-size="10" text-anchor="middle" fill="#111" stroke="#111" stroke-width="0.3"><tspan fill="#6a309a" stroke="#6a309a" stroke-width="0.22">PLA</tspan> or <tspan fill="#dd9a4a" stroke="#dd9a4a" stroke-width="0.22">&#947;H2A.X</tspan></text>
<text transform="translate(256 447.5) rotate(90)" font-size="9.9" text-anchor="middle" fill="#161a48" stroke="#161a48" stroke-width="0.3">% PAR induction</text>
<polyline points="63.1,507.5 82.72,508 102.34,508 121.96,509.6 141.58,508.2 161.2,511.9 180.82,492 200.44,492 220.06,463.4" fill="none" stroke="#6a3c8a" stroke-width="1"/>
<polyline points="63.1,507 82.72,509 102.34,504 121.96,506 141.58,501.9 161.2,500.3 180.82,488.1 200.44,471.9 220.06,451.2" fill="none" stroke="#c49060" stroke-width="1"/>
<polyline points="63.1,506.1 82.72,507.8 102.34,507.8 121.96,506 141.58,505.9 161.2,500.8 180.82,492.7 200.44,467.3 220.06,453.5" fill="none" stroke="#3a88a2" stroke-width="1"/>
<polyline points="63.1,425.4 82.72,426.3 102.34,443.8 121.96,444.2 141.58,451.8 161.2,491.5 180.82,501.9 200.44,501.9 220.06,498.9" fill="none" stroke="#1c2048" stroke-width="1.2"/>
<line x1="180.82" y1="475" x2="180.82" y2="509" stroke="#6a3c8a" stroke-width="0.9"/>
<line x1="177.82" y1="475" x2="183.82" y2="475" stroke="#6a3c8a" stroke-width="0.9"/>
<line x1="177.82" y1="509" x2="183.82" y2="509" stroke="#6a3c8a" stroke-width="0.9"/>
<line x1="200.44" y1="482" x2="200.44" y2="502" stroke="#6a3c8a" stroke-width="0.9"/>
<line x1="197.44" y1="482" x2="203.44" y2="482" stroke="#6a3c8a" stroke-width="0.9"/>
<line x1="197.44" y1="502" x2="203.44" y2="502" stroke="#6a3c8a" stroke-width="0.9"/>
<line x1="220.06" y1="443.9" x2="220.06" y2="482.9" stroke="#6a3c8a" stroke-width="0.9"/>
<line x1="217.06" y1="443.9" x2="223.06" y2="443.9" stroke="#6a3c8a" stroke-width="0.9"/>
<line x1="217.06" y1="482.9" x2="223.06" y2="482.9" stroke="#6a3c8a" stroke-width="0.9"/>
<circle cx="63.1" cy="507.5" r="3.2" fill="#6a2896"/>
<circle cx="82.72" cy="508" r="3.2" fill="#6a2896"/>
<circle cx="102.34" cy="508" r="3.2" fill="#6a2896"/>
<circle cx="121.96" cy="509.6" r="3.2" fill="#6a2896"/>
<circle cx="141.58" cy="508.2" r="3.2" fill="#6a2896"/>
<circle cx="161.2" cy="511.9" r="3.2" fill="#6a2896"/>
<circle cx="180.82" cy="492" r="3.2" fill="#6a2896"/>
<circle cx="200.44" cy="492" r="3.2" fill="#6a2896"/>
<circle cx="220.06" cy="463.4" r="3.2" fill="#6a2896"/>
<line x1="200.44" y1="466.9" x2="200.44" y2="476.9" stroke="#c49060" stroke-width="0.9"/>
<line x1="197.44" y1="466.9" x2="203.44" y2="466.9" stroke="#c49060" stroke-width="0.9"/>
<line x1="197.44" y1="476.9" x2="203.44" y2="476.9" stroke="#c49060" stroke-width="0.9"/>
<line x1="220.06" y1="446.2" x2="220.06" y2="456.2" stroke="#c49060" stroke-width="0.9"/>
<line x1="217.06" y1="446.2" x2="223.06" y2="446.2" stroke="#c49060" stroke-width="0.9"/>
<line x1="217.06" y1="456.2" x2="223.06" y2="456.2" stroke="#c49060" stroke-width="0.9"/>
<rect x="59.9" y="503.8" width="6.4" height="6.4" fill="#e2902f"/>
<rect x="79.52" y="505.8" width="6.4" height="6.4" fill="#e2902f"/>
<rect x="99.14" y="500.8" width="6.4" height="6.4" fill="#e2902f"/>
<rect x="118.76" y="502.8" width="6.4" height="6.4" fill="#e2902f"/>
<rect x="138.38" y="498.7" width="6.4" height="6.4" fill="#e2902f"/>
<rect x="158" y="497.1" width="6.4" height="6.4" fill="#e2902f"/>
<rect x="177.62" y="484.9" width="6.4" height="6.4" fill="#e2902f"/>
<rect x="197.24" y="468.7" width="6.4" height="6.4" fill="#e2902f"/>
<rect x="216.86" y="448" width="6.4" height="6.4" fill="#e2902f"/>
<line x1="180.82" y1="484.7" x2="180.82" y2="500.7" stroke="#3a88a2" stroke-width="0.9"/>
<line x1="177.82" y1="484.7" x2="183.82" y2="484.7" stroke="#3a88a2" stroke-width="0.9"/>
<line x1="177.82" y1="500.7" x2="183.82" y2="500.7" stroke="#3a88a2" stroke-width="0.9"/>
<line x1="200.44" y1="456.9" x2="200.44" y2="477.7" stroke="#3a88a2" stroke-width="0.9"/>
<line x1="197.44" y1="456.9" x2="203.44" y2="456.9" stroke="#3a88a2" stroke-width="0.9"/>
<line x1="197.44" y1="477.7" x2="203.44" y2="477.7" stroke="#3a88a2" stroke-width="0.9"/>
<line x1="220.06" y1="443" x2="220.06" y2="464" stroke="#3a88a2" stroke-width="0.9"/>
<line x1="217.06" y1="443" x2="223.06" y2="443" stroke="#3a88a2" stroke-width="0.9"/>
<line x1="217.06" y1="464" x2="223.06" y2="464" stroke="#3a88a2" stroke-width="0.9"/>
<path d="M63.1 509.46L66.62 503.38L59.58 503.38Z" fill="#2a8fb5"/>
<path d="M82.72 511.16L86.24 505.08L79.2 505.08Z" fill="#2a8fb5"/>
<path d="M102.34 511.16L105.86 505.08L98.82 505.08Z" fill="#2a8fb5"/>
<path d="M121.96 509.36L125.48 503.28L118.44 503.28Z" fill="#2a8fb5"/>
<path d="M141.58 509.26L145.1 503.18L138.06 503.18Z" fill="#2a8fb5"/>
<path d="M161.2 504.16L164.72 498.08L157.68 498.08Z" fill="#2a8fb5"/>
<path d="M180.82 496.06L184.34 489.98L177.3 489.98Z" fill="#2a8fb5"/>
<path d="M200.44 470.66L203.96 464.58L196.92 464.58Z" fill="#2a8fb5"/>
<path d="M220.06 456.86L223.58 450.78L216.54 450.78Z" fill="#2a8fb5"/>
<line x1="63.1" y1="418.7" x2="63.1" y2="432.1" stroke="#1c2048" stroke-width="0.9"/>
<line x1="60.1" y1="418.7" x2="66.1" y2="418.7" stroke="#1c2048" stroke-width="0.9"/>
<line x1="60.1" y1="432.1" x2="66.1" y2="432.1" stroke="#1c2048" stroke-width="0.9"/>
<line x1="82.72" y1="416.5" x2="82.72" y2="436.1" stroke="#1c2048" stroke-width="0.9"/>
<line x1="79.72" y1="416.5" x2="85.72" y2="416.5" stroke="#1c2048" stroke-width="0.9"/>
<line x1="79.72" y1="436.1" x2="85.72" y2="436.1" stroke="#1c2048" stroke-width="0.9"/>
<line x1="102.34" y1="434.5" x2="102.34" y2="453.1" stroke="#1c2048" stroke-width="0.9"/>
<line x1="99.34" y1="434.5" x2="105.34" y2="434.5" stroke="#1c2048" stroke-width="0.9"/>
<line x1="99.34" y1="453.1" x2="105.34" y2="453.1" stroke="#1c2048" stroke-width="0.9"/>
<line x1="121.96" y1="435.5" x2="121.96" y2="452.9" stroke="#1c2048" stroke-width="0.9"/>
<line x1="118.96" y1="435.5" x2="124.96" y2="435.5" stroke="#1c2048" stroke-width="0.9"/>
<line x1="118.96" y1="452.9" x2="124.96" y2="452.9" stroke="#1c2048" stroke-width="0.9"/>
<line x1="141.58" y1="446" x2="141.58" y2="457.6" stroke="#1c2048" stroke-width="0.9"/>
<line x1="138.58" y1="446" x2="144.58" y2="446" stroke="#1c2048" stroke-width="0.9"/>
<line x1="138.58" y1="457.6" x2="144.58" y2="457.6" stroke="#1c2048" stroke-width="0.9"/>
<line x1="161.2" y1="487" x2="161.2" y2="496" stroke="#1c2048" stroke-width="0.9"/>
<line x1="158.2" y1="487" x2="164.2" y2="487" stroke="#1c2048" stroke-width="0.9"/>
<line x1="158.2" y1="496" x2="164.2" y2="496" stroke="#1c2048" stroke-width="0.9"/>
<line x1="180.82" y1="499" x2="180.82" y2="504.8" stroke="#1c2048" stroke-width="0.9"/>
<line x1="177.82" y1="499" x2="183.82" y2="499" stroke="#1c2048" stroke-width="0.9"/>
<line x1="177.82" y1="504.8" x2="183.82" y2="504.8" stroke="#1c2048" stroke-width="0.9"/>
<line x1="200.44" y1="499" x2="200.44" y2="504.8" stroke="#1c2048" stroke-width="0.9"/>
<line x1="197.44" y1="499" x2="203.44" y2="499" stroke="#1c2048" stroke-width="0.9"/>
<line x1="197.44" y1="504.8" x2="203.44" y2="504.8" stroke="#1c2048" stroke-width="0.9"/>
<line x1="220.06" y1="494.7" x2="220.06" y2="503.1" stroke="#1c2048" stroke-width="0.9"/>
<line x1="217.06" y1="494.7" x2="223.06" y2="494.7" stroke="#1c2048" stroke-width="0.9"/>
<line x1="217.06" y1="503.1" x2="223.06" y2="503.1" stroke="#1c2048" stroke-width="0.9"/>
<path d="M63.1 422.04L66.62 428.12L59.58 428.12Z" fill="#161a48"/>
<path d="M82.72 422.94L86.24 429.02L79.2 429.02Z" fill="#161a48"/>
<path d="M102.34 440.44L105.86 446.52L98.82 446.52Z" fill="#161a48"/>
<path d="M121.96 440.84L125.48 446.92L118.44 446.92Z" fill="#161a48"/>
<path d="M141.58 448.44L145.1 454.52L138.06 454.52Z" fill="#161a48"/>
<path d="M161.2 488.14L164.72 494.22L157.68 494.22Z" fill="#161a48"/>
<path d="M180.82 498.54L184.34 504.62L177.3 504.62Z" fill="#161a48"/>
<path d="M200.44 498.54L203.96 504.62L196.92 504.62Z" fill="#161a48"/>
<path d="M220.06 495.54L223.58 501.62L216.54 501.62Z" fill="#161a48"/>
<line x1="65.5" y1="28.7" x2="78.5" y2="28.7" stroke="#161a48" stroke-width="1.1"/>
<path d="M72 25.34L75.52 31.42L68.48 31.42Z" fill="#161a48"/>
<text x="86" y="32.1" font-size="9.5" text-anchor="start" fill="#111" stroke="#111" stroke-width="0.3">PAR</text>
<line x1="65.5" y1="41.2" x2="78.5" y2="41.2" stroke="#2a8fb5" stroke-width="1.1"/>
<path d="M72 44.56L75.52 38.48L68.48 38.48Z" fill="#2a8fb5"/>
<text x="86" y="44.6" font-size="9.5" text-anchor="start" fill="#2b8299" stroke="#2b8299" stroke-width="0.22">Caspase 3/7</text>
<line x1="155.1" y1="28.8" x2="168.1" y2="28.8" stroke="#e2902f" stroke-width="1.1"/>
<rect x="158.4" y="25.6" width="6.4" height="6.4" fill="#e2902f"/>
<text x="175.6" y="32.2" font-size="9.5" text-anchor="start" fill="#e2902f" stroke="#e2902f" stroke-width="0.22">&#947;H2AX</text>
<line x1="155.1" y1="42" x2="168.1" y2="42" stroke="#6a2896" stroke-width="1.1"/>
<circle cx="161.6" cy="42" r="3.2" fill="#6a2896"/>
<text x="175.6" y="45.4" font-size="9.5" text-anchor="start" fill="#6a2896" stroke="#6a2896" stroke-width="0.22">PLA</text>
<text x="283.8" y="12.5" font-size="14.5" text-anchor="start" fill="#111" stroke="#111" stroke-width="0.3">D</text>
<line x1="315.6" y1="28.3" x2="315.6" y2="147.7" stroke="#3a3a3a" stroke-width="1.1"/>
<line x1="315.6" y1="147.7" x2="483.1" y2="147.7" stroke="#3a3a3a" stroke-width="1.1"/>
<line x1="312.3" y1="147.7" x2="315.6" y2="147.7" stroke="#3a3a3a" stroke-width="1"/>
<text x="311.4" y="150.4" font-size="9.3" text-anchor="end" fill="#111" stroke="#111" stroke-width="0.3">0</text>
<line x1="312.3" y1="127.8" x2="315.6" y2="127.8" stroke="#3a3a3a" stroke-width="1"/>
<text x="311.4" y="130.5" font-size="9.3" text-anchor="end" fill="#111" stroke="#111" stroke-width="0.3">20</text>
<line x1="312.3" y1="107.9" x2="315.6" y2="107.9" stroke="#3a3a3a" stroke-width="1"/>
<text x="311.4" y="110.6" font-size="9.3" text-anchor="end" fill="#111" stroke="#111" stroke-width="0.3">40</text>
<line x1="312.3" y1="88" x2="315.6" y2="88" stroke="#3a3a3a" stroke-width="1"/>
<text x="311.4" y="90.7" font-size="9.3" text-anchor="end" fill="#111" stroke="#111" stroke-width="0.3">60</text>
<line x1="312.3" y1="68.1" x2="315.6" y2="68.1" stroke="#3a3a3a" stroke-width="1"/>
<text x="311.4" y="70.8" font-size="9.3" text-anchor="end" fill="#111" stroke="#111" stroke-width="0.3">80</text>
<line x1="312.3" y1="48.2" x2="315.6" y2="48.2" stroke="#3a3a3a" stroke-width="1"/>
<text x="311.4" y="50.9" font-size="9.3" text-anchor="end" fill="#111" stroke="#111" stroke-width="0.3">100</text>
<line x1="312.3" y1="28.3" x2="315.6" y2="28.3" stroke="#3a3a3a" stroke-width="1"/>
<text x="311.4" y="31" font-size="9.3" text-anchor="end" fill="#111" stroke="#111" stroke-width="0.3">120</text>
<line x1="315.6" y1="147.7" x2="315.6" y2="151.3" stroke="#3a3a3a" stroke-width="0.8"/>
<line x1="325.68" y1="147.7" x2="325.68" y2="150.1" stroke="#3a3a3a" stroke-width="0.8"/>
<line x1="331.58" y1="147.7" x2="331.58" y2="150.1" stroke="#3a3a3a" stroke-width="0.8"/>
<line x1="335.77" y1="147.7" x2="335.77" y2="150.1" stroke="#3a3a3a" stroke-width="0.8"/>
<line x1="339.02" y1="147.7" x2="339.02" y2="150.1" stroke="#3a3a3a" stroke-width="0.8"/>
<line x1="341.67" y1="147.7" x2="341.67" y2="150.1" stroke="#3a3a3a" stroke-width="0.8"/>
<line x1="343.91" y1="147.7" x2="343.91" y2="150.1" stroke="#3a3a3a" stroke-width="0.8"/>
<line x1="345.85" y1="147.7" x2="345.85" y2="150.1" stroke="#3a3a3a" stroke-width="0.8"/>
<line x1="347.57" y1="147.7" x2="347.57" y2="150.1" stroke="#3a3a3a" stroke-width="0.8"/>
<line x1="349.1" y1="147.7" x2="349.1" y2="151.3" stroke="#3a3a3a" stroke-width="0.8"/>
<line x1="359.18" y1="147.7" x2="359.18" y2="150.1" stroke="#3a3a3a" stroke-width="0.8"/>
<line x1="365.08" y1="147.7" x2="365.08" y2="150.1" stroke="#3a3a3a" stroke-width="0.8"/>
<line x1="369.27" y1="147.7" x2="369.27" y2="150.1" stroke="#3a3a3a" stroke-width="0.8"/>
<line x1="372.52" y1="147.7" x2="372.52" y2="150.1" stroke="#3a3a3a" stroke-width="0.8"/>
<line x1="375.17" y1="147.7" x2="375.17" y2="150.1" stroke="#3a3a3a" stroke-width="0.8"/>
<line x1="377.41" y1="147.7" x2="377.41" y2="150.1" stroke="#3a3a3a" stroke-width="0.8"/>
<line x1="379.35" y1="147.7" x2="379.35" y2="150.1" stroke="#3a3a3a" stroke-width="0.8"/>
<line x1="381.07" y1="147.7" x2="381.07" y2="150.1" stroke="#3a3a3a" stroke-width="0.8"/>
<line x1="382.6" y1="147.7" x2="382.6" y2="151.3" stroke="#3a3a3a" stroke-width="0.8"/>
<line x1="392.68" y1="147.7" x2="392.68" y2="150.1" stroke="#3a3a3a" stroke-width="0.8"/>
<line x1="398.58" y1="147.7" x2="398.58" y2="150.1" stroke="#3a3a3a" stroke-width="0.8"/>
<line x1="402.77" y1="147.7" x2="402.77" y2="150.1" stroke="#3a3a3a" stroke-width="0.8"/>
<line x1="406.02" y1="147.7" x2="406.02" y2="150.1" stroke="#3a3a3a" stroke-width="0.8"/>
<line x1="408.67" y1="147.7" x2="408.67" y2="150.1" stroke="#3a3a3a" stroke-width="0.8"/>
<line x1="410.91" y1="147.7" x2="410.91" y2="150.1" stroke="#3a3a3a" stroke-width="0.8"/>
<line x1="412.85" y1="147.7" x2="412.85" y2="150.1" stroke="#3a3a3a" stroke-width="0.8"/>
<line x1="414.57" y1="147.7" x2="414.57" y2="150.1" stroke="#3a3a3a" stroke-width="0.8"/>
<line x1="416.1" y1="147.7" x2="416.1" y2="151.3" stroke="#3a3a3a" stroke-width="0.8"/>
<line x1="426.18" y1="147.7" x2="426.18" y2="150.1" stroke="#3a3a3a" stroke-width="0.8"/>
<line x1="432.08" y1="147.7" x2="432.08" y2="150.1" stroke="#3a3a3a" stroke-width="0.8"/>
<line x1="436.27" y1="147.7" x2="436.27" y2="150.1" stroke="#3a3a3a" stroke-width="0.8"/>
<line x1="439.52" y1="147.7" x2="439.52" y2="150.1" stroke="#3a3a3a" stroke-width="0.8"/>
<line x1="442.17" y1="147.7" x2="442.17" y2="150.1" stroke="#3a3a3a" stroke-width="0.8"/>
<line x1="444.41" y1="147.7" x2="444.41" y2="150.1" stroke="#3a3a3a" stroke-width="0.8"/>
<line x1="446.35" y1="147.7" x2="446.35" y2="150.1" stroke="#3a3a3a" stroke-width="0.8"/>
<line x1="448.07" y1="147.7" x2="448.07" y2="150.1" stroke="#3a3a3a" stroke-width="0.8"/>
<line x1="449.6" y1="147.7" x2="449.6" y2="151.3" stroke="#3a3a3a" stroke-width="0.8"/>
<line x1="459.68" y1="147.7" x2="459.68" y2="150.1" stroke="#3a3a3a" stroke-width="0.8"/>
<line x1="465.58" y1="147.7" x2="465.58" y2="150.1" stroke="#3a3a3a" stroke-width="0.8"/>
<line x1="469.77" y1="147.7" x2="469.77" y2="150.1" stroke="#3a3a3a" stroke-width="0.8"/>
<line x1="473.02" y1="147.7" x2="473.02" y2="150.1" stroke="#3a3a3a" stroke-width="0.8"/>
<line x1="475.67" y1="147.7" x2="475.67" y2="150.1" stroke="#3a3a3a" stroke-width="0.8"/>
<line x1="477.91" y1="147.7" x2="477.91" y2="150.1" stroke="#3a3a3a" stroke-width="0.8"/>
<line x1="479.85" y1="147.7" x2="479.85" y2="150.1" stroke="#3a3a3a" stroke-width="0.8"/>
<line x1="481.57" y1="147.7" x2="481.57" y2="150.1" stroke="#3a3a3a" stroke-width="0.8"/>
<line x1="483.1" y1="147.7" x2="483.1" y2="151.3" stroke="#3a3a3a" stroke-width="0.8"/>
<text x="316.6" y="161" font-size="9.3" text-anchor="middle" fill="#111" stroke="#111" stroke-width="0.3">0.01</text>
<text x="349.1" y="161" font-size="9.3" text-anchor="middle" fill="#111" stroke="#111" stroke-width="0.3">0.1</text>
<text x="382.1" y="161" font-size="9.3" text-anchor="middle" fill="#111" stroke="#111" stroke-width="0.3">1</text>
<text x="417.1" y="161" font-size="9.3" text-anchor="middle" fill="#111" stroke="#111" stroke-width="0.3">10</text>
<text x="450.1" y="161" font-size="9.3" text-anchor="middle" fill="#111" stroke="#111" stroke-width="0.3">100</text>
<text x="485.1" y="161" font-size="9.3" text-anchor="middle" fill="#111" stroke="#111" stroke-width="0.3">1,000</text>
<text x="405.5" y="178.7" font-size="9.75" text-anchor="middle" fill="#111" stroke="#111" stroke-width="0.3">Veliparib (&#956;mo/L)</text>
<text transform="translate(292.7 88) rotate(-90)" font-size="9.9" text-anchor="middle" fill="#111" stroke="#111" stroke-width="0.3">% Control</text>
<polyline points="332.52,48.21 334.51,48.21 336.49,48.21 338.48,48.21 340.46,48.22 342.44,48.22 344.43,48.22 346.41,48.22 348.4,48.23 350.38,48.23 352.37,48.24 354.35,48.25 356.33,48.25 358.32,48.26 360.3,48.27 362.29,48.28 364.27,48.3 366.26,48.31 368.24,48.33 370.23,48.36 372.21,48.38 374.19,48.41 376.18,48.45 378.16,48.49 380.15,48.54 382.13,48.6 384.12,48.66 386.1,48.74 388.08,48.83 390.07,48.94 392.05,49.06 394.04,49.21 396.02,49.38 398.01,49.57 399.99,49.8 401.98,50.06 403.96,50.37 405.94,50.73 407.93,51.14 409.91,51.62 411.9,52.17 413.88,52.81 415.87,53.55 417.85,54.4 419.83,55.37 421.82,56.47 423.8,57.73 425.79,59.17 427.77,60.78 429.76,62.6 431.74,64.62 433.73,66.87 435.71,69.35 437.69,72.07 439.68,75.01 441.66,78.17 443.65,81.53 445.63,85.07 447.62,88.75 449.6,92.54" fill="none" stroke="#1c2048" stroke-width="1.2"/>
<polyline points="332.52,48.3 334.51,48.31 336.49,48.33 338.48,48.34 340.46,48.35 342.44,48.37 344.43,48.39 346.41,48.41 348.4,48.43 350.38,48.45 352.37,48.48 354.35,48.51 356.33,48.54 358.32,48.58 360.3,48.62 362.29,48.66 364.27,48.71 366.26,48.77 368.24,48.83 370.23,48.89 372.21,48.97 374.19,49.05 376.18,49.14 378.16,49.23 380.15,49.34 382.13,49.46 384.12,49.59 386.1,49.74 388.08,49.9 390.07,50.07 392.05,50.27 394.04,50.48 396.02,50.72 398.01,50.98 399.99,51.26 401.98,51.57 403.96,51.92 405.94,52.29 407.93,52.71 409.91,53.16 411.9,53.66 413.88,54.2 415.87,54.79 417.85,55.44 419.83,56.15 421.82,56.91 423.8,57.75 425.79,58.65 427.77,59.63 429.76,60.69 431.74,61.83 433.73,63.06 435.71,64.37 437.69,65.78 439.68,67.29 441.66,68.89 443.65,70.58 445.63,72.38 447.62,74.27 449.6,76.25" fill="none" stroke="#3a80aa" stroke-width="1"/>
<polyline points="332.52,48.57 334.51,48.6 336.49,48.63 338.48,48.66 340.46,48.69 342.44,48.73 344.43,48.76 346.41,48.81 348.4,48.85 350.38,48.9 352.37,48.95 354.35,49 356.33,49.06 358.32,49.13 360.3,49.19 362.29,49.26 364.27,49.34 366.26,49.43 368.24,49.51 370.23,49.61 372.21,49.71 374.19,49.82 376.18,49.94 378.16,50.07 380.15,50.2 382.13,50.34 384.12,50.5 386.1,50.66 388.08,50.84 390.07,51.03 392.05,51.23 394.04,51.45 396.02,51.68 398.01,51.92 399.99,52.19 401.98,52.47 403.96,52.77 405.94,53.09 407.93,53.43 409.91,53.79 411.9,54.18 413.88,54.59 415.87,55.03 417.85,55.5 419.83,55.99 421.82,56.52 423.8,57.08 425.79,57.67 427.77,58.29 429.76,58.96 431.74,59.66 433.73,60.4 435.71,61.18 437.69,62 439.68,62.87 441.66,63.78 443.65,64.74 445.63,65.74 447.62,66.79 449.6,67.89" fill="none" stroke="#6a3c8a" stroke-width="1"/>
<polyline points="332.52,48.2 334.51,48.2 336.49,48.2 338.48,48.2 340.46,48.2 342.44,48.2 344.43,48.2 346.41,48.2 348.4,48.2 350.38,48.2 352.37,48.2 354.35,48.2 356.33,48.2 358.32,48.2 360.3,48.2 362.29,48.2 364.27,48.2 366.26,48.2 368.24,48.2 370.23,48.2 372.21,48.2 374.19,48.2 376.18,48.2 378.16,48.2 380.15,48.2 382.13,48.2 384.12,48.2 386.1,48.2 388.08,48.2 390.07,48.2 392.05,48.2 394.04,48.2 396.02,48.2 398.01,48.2 399.99,48.2 401.98,48.2 403.96,48.2 405.94,48.2 407.93,48.2 409.91,48.21 411.9,48.21 413.88,48.21 415.87,48.22 417.85,48.23 419.83,48.24 421.82,48.26 423.8,48.29 425.79,48.34 427.77,48.41 429.76,48.52 431.74,48.67 433.73,48.91 435.71,49.27 437.69,49.8 439.68,50.59 441.66,51.75 443.65,53.45 445.63,55.91 447.62,59.36 449.6,64.11" fill="none" stroke="#c49060" stroke-width="1"/>
<polyline points="332.52,48.39 334.51,48.41 336.49,48.42 338.48,48.44 340.46,48.47 342.44,48.49 344.43,48.51 346.41,48.54 348.4,48.57 350.38,48.61 352.37,48.64 354.35,48.68 356.33,48.73 358.32,48.77 360.3,48.82 362.29,48.88 364.27,48.94 366.26,49.01 368.24,49.08 370.23,49.16 372.21,49.24 374.19,49.34 376.18,49.44 378.16,49.55 380.15,49.66 382.13,49.79 384.12,49.94 386.1,50.09 388.08,50.25 390.07,50.43 392.05,50.63 394.04,50.84 396.02,51.07 398.01,51.32 399.99,51.6 401.98,51.89 403.96,52.21 405.94,52.55 407.93,52.92 409.91,53.33 411.9,53.76 413.88,54.23 415.87,54.74 417.85,55.28 419.83,55.87 421.82,56.5 423.8,57.18 425.79,57.91 427.77,58.69 429.76,59.53 431.74,60.42 433.73,61.37 435.71,62.39 437.69,63.47 439.68,64.61 441.66,65.83 443.65,67.11 445.63,68.46 447.62,69.89 449.6,71.38" fill="none" stroke="#7f9c50" stroke-width="1"/>
<line x1="426.18" y1="58.85" x2="426.18" y2="62.83" stroke="#1c2048" stroke-width="0.9"/>
<line x1="423.18" y1="58.85" x2="429.18" y2="58.85" stroke="#1c2048" stroke-width="0.9"/>
<line x1="423.18" y1="62.83" x2="429.18" y2="62.83" stroke="#1c2048" stroke-width="0.9"/>
<line x1="449.6" y1="89.29" x2="449.6" y2="95.26" stroke="#1c2048" stroke-width="0.9"/>
<line x1="446.6" y1="89.29" x2="452.6" y2="89.29" stroke="#1c2048" stroke-width="0.9"/>
<line x1="446.6" y1="95.26" x2="452.6" y2="95.26" stroke="#1c2048" stroke-width="0.9"/>
<circle cx="332.52" cy="48.2" r="2.75" fill="#161a48"/>
<circle cx="355.94" cy="49.19" r="2.75" fill="#161a48"/>
<circle cx="379.35" cy="50.19" r="2.75" fill="#161a48"/>
<circle cx="402.77" cy="46.21" r="2.75" fill="#161a48"/>
<circle cx="426.18" cy="60.84" r="2.75" fill="#161a48"/>
<circle cx="449.6" cy="92.28" r="2.75" fill="#161a48"/>
<line x1="449.6" y1="72.48" x2="449.6" y2="80.44" stroke="#3a80aa" stroke-width="0.9"/>
<line x1="446.6" y1="72.48" x2="452.6" y2="72.48" stroke="#3a80aa" stroke-width="0.9"/>
<line x1="446.6" y1="80.44" x2="452.6" y2="80.44" stroke="#3a80aa" stroke-width="0.9"/>
<rect x="329.77" y="48.43" width="5.5" height="5.5" fill="#2088c2"/>
<rect x="353.19" y="47.44" width="5.5" height="5.5" fill="#2088c2"/>
<rect x="376.6" y="46.44" width="5.5" height="5.5" fill="#2088c2"/>
<rect x="400.02" y="49.43" width="5.5" height="5.5" fill="#2088c2"/>
<rect x="423.43" y="55.4" width="5.5" height="5.5" fill="#2088c2"/>
<rect x="446.85" y="73.71" width="5.5" height="5.5" fill="#2088c2"/>
<path d="M332.52 45.31L335.55 50.54L329.5 50.54Z" fill="#6a2896"/>
<path d="M355.94 46.31L358.96 51.53L352.91 51.53Z" fill="#6a2896"/>
<path d="M379.35 53.27L382.38 58.5L376.33 58.5Z" fill="#6a2896"/>
<path d="M402.77 47.3L405.79 52.53L399.74 52.53Z" fill="#6a2896"/>
<path d="M426.18 53.27L429.21 58.5L423.16 58.5Z" fill="#6a2896"/>
<path d="M449.6 65.81L452.62 71.03L446.58 71.03Z" fill="#6a2896"/>
<line x1="355.94" y1="45.21" x2="355.94" y2="49.19" stroke="#c49060" stroke-width="0.9"/>
<line x1="352.94" y1="45.21" x2="358.94" y2="45.21" stroke="#c49060" stroke-width="0.9"/>
<line x1="352.94" y1="49.19" x2="358.94" y2="49.19" stroke="#c49060" stroke-width="0.9"/>
<line x1="426.18" y1="43.22" x2="426.18" y2="51.18" stroke="#c49060" stroke-width="0.9"/>
<line x1="423.18" y1="43.22" x2="429.18" y2="43.22" stroke="#c49060" stroke-width="0.9"/>
<line x1="423.18" y1="51.18" x2="429.18" y2="51.18" stroke="#c49060" stroke-width="0.9"/>
<line x1="449.6" y1="61.13" x2="449.6" y2="67.1" stroke="#c49060" stroke-width="0.9"/>
<line x1="446.6" y1="61.13" x2="452.6" y2="61.13" stroke="#c49060" stroke-width="0.9"/>
<line x1="446.6" y1="67.1" x2="452.6" y2="67.1" stroke="#c49060" stroke-width="0.9"/>
<path d="M332.52 51.09L335.55 45.86L329.5 45.86Z" fill="#e2902f"/>
<path d="M355.94 50.09L358.96 44.87L352.91 44.87Z" fill="#e2902f"/>
<path d="M379.35 51.09L382.38 45.86L376.33 45.86Z" fill="#e2902f"/>
<path d="M402.77 53.08L405.79 47.85L399.74 47.85Z" fill="#e2902f"/>
<path d="M426.18 50.09L429.21 44.87L423.16 44.87Z" fill="#e2902f"/>
<path d="M449.6 67.01L452.62 61.78L446.58 61.78Z" fill="#e2902f"/>
<line x1="355.94" y1="46.21" x2="355.94" y2="54.17" stroke="#7f9c50" stroke-width="0.9"/>
<line x1="352.94" y1="46.21" x2="358.94" y2="46.21" stroke="#7f9c50" stroke-width="0.9"/>
<line x1="352.94" y1="54.17" x2="358.94" y2="54.17" stroke="#7f9c50" stroke-width="0.9"/>
<line x1="402.77" y1="49.19" x2="402.77" y2="59.14" stroke="#7f9c50" stroke-width="0.9"/>
<line x1="399.77" y1="49.19" x2="405.77" y2="49.19" stroke="#7f9c50" stroke-width="0.9"/>
<line x1="399.77" y1="59.14" x2="405.77" y2="59.14" stroke="#7f9c50" stroke-width="0.9"/>
<path d="M332.52 44.9L335.82 48.2L332.52 51.5L329.22 48.2Z" fill="#8db43a"/>
<path d="M355.94 46.89L359.24 50.19L355.94 53.49L352.64 50.19Z" fill="#8db43a"/>
<path d="M379.35 45.89L382.65 49.19L379.35 52.49L376.05 49.19Z" fill="#8db43a"/>
<path d="M402.77 50.87L406.07 54.17L402.77 57.47L399.47 54.17Z" fill="#8db43a"/>
<path d="M426.18 52.86L429.48 56.16L426.18 59.46L422.88 56.16Z" fill="#8db43a"/>
<path d="M449.6 68.58L452.9 71.88L449.6 75.18L446.3 71.88Z" fill="#8db43a"/>
<line x1="471" y1="36.5" x2="484" y2="36.5" stroke="#161a48" stroke-width="1.1"/>
<circle cx="477.5" cy="36.5" r="2.8" fill="#161a48"/>
<text x="492" y="39.8" font-size="9.2" text-anchor="start" fill="#161a48" stroke="#161a48" stroke-width="0.3">120 hr</text>
<line x1="471" y1="50.1" x2="484" y2="50.1" stroke="#2088c2" stroke-width="1.1"/>
<rect x="474.7" y="47.3" width="5.6" height="5.6" fill="#2088c2"/>
<text x="492" y="53.4" font-size="9.2" text-anchor="start" fill="#2088c2" stroke="#2088c2" stroke-width="0.22">96 hr</text>
<line x1="471" y1="64" x2="484" y2="64" stroke="#6a2896" stroke-width="1.1"/>
<path d="M477.5 61.06L480.58 66.38L474.42 66.38Z" fill="#6a2896"/>
<text x="492" y="67.3" font-size="9.2" text-anchor="start" fill="#6a2896" stroke="#6a2896" stroke-width="0.22">72 hr</text>
<line x1="471" y1="77.6" x2="484" y2="77.6" stroke="#e2902f" stroke-width="1.1"/>
<path d="M477.5 80.54L480.58 75.22L474.42 75.22Z" fill="#e2902f"/>
<text x="492" y="80.9" font-size="9.2" text-anchor="start" fill="#e2902f" stroke="#e2902f" stroke-width="0.22">48 hr</text>
<line x1="471" y1="91.3" x2="484" y2="91.3" stroke="#8db43a" stroke-width="1.1"/>
<path d="M477.5 87.94L480.86 91.3L477.5 94.66L474.14 91.3Z" fill="#8db43a"/>
<text x="492" y="94.6" font-size="9.2" text-anchor="start" fill="#8db43a" stroke="#8db43a" stroke-width="0.22">24 hr</text>
<text x="285.2" y="199.8" font-size="14.5" text-anchor="start" fill="#111" stroke="#111" stroke-width="0.3">E</text>
<line x1="315.2" y1="212.3" x2="315.2" y2="331.4" stroke="#3a3a3a" stroke-width="1.1"/>
<line x1="315.2" y1="331.4" x2="482.7" y2="331.4" stroke="#3a3a3a" stroke-width="1.1"/>
<line x1="311.9" y1="331.4" x2="315.2" y2="331.4" stroke="#3a3a3a" stroke-width="1"/>
<text x="311" y="334.1" font-size="9.3" text-anchor="end" fill="#111" stroke="#111" stroke-width="0.3">0</text>
<line x1="311.9" y1="311.5" x2="315.2" y2="311.5" stroke="#3a3a3a" stroke-width="1"/>
<text x="311" y="314.2" font-size="9.3" text-anchor="end" fill="#111" stroke="#111" stroke-width="0.3">20</text>
<line x1="311.9" y1="291.6" x2="315.2" y2="291.6" stroke="#3a3a3a" stroke-width="1"/>
<text x="311" y="294.3" font-size="9.3" text-anchor="end" fill="#111" stroke="#111" stroke-width="0.3">40</text>
<line x1="311.9" y1="271.7" x2="315.2" y2="271.7" stroke="#3a3a3a" stroke-width="1"/>
<text x="311" y="274.4" font-size="9.3" text-anchor="end" fill="#111" stroke="#111" stroke-width="0.3">60</text>
<line x1="311.9" y1="251.8" x2="315.2" y2="251.8" stroke="#3a3a3a" stroke-width="1"/>
<text x="311" y="254.5" font-size="9.3" text-anchor="end" fill="#111" stroke="#111" stroke-width="0.3">80</text>
<line x1="311.9" y1="231.9" x2="315.2" y2="231.9" stroke="#3a3a3a" stroke-width="1"/>
<text x="311" y="234.6" font-size="9.3" text-anchor="end" fill="#111" stroke="#111" stroke-width="0.3">100</text>
<line x1="311.9" y1="212" x2="315.2" y2="212" stroke="#3a3a3a" stroke-width="1"/>
<text x="311" y="214.7" font-size="9.3" text-anchor="end" fill="#111" stroke="#111" stroke-width="0.3">120</text>
<line x1="315.2" y1="331.4" x2="315.2" y2="335" stroke="#3a3a3a" stroke-width="0.8"/>
<line x1="325.28" y1="331.4" x2="325.28" y2="333.8" stroke="#3a3a3a" stroke-width="0.8"/>
<line x1="331.18" y1="331.4" x2="331.18" y2="333.8" stroke="#3a3a3a" stroke-width="0.8"/>
<line x1="335.37" y1="331.4" x2="335.37" y2="333.8" stroke="#3a3a3a" stroke-width="0.8"/>
<line x1="338.62" y1="331.4" x2="338.62" y2="333.8" stroke="#3a3a3a" stroke-width="0.8"/>
<line x1="341.27" y1="331.4" x2="341.27" y2="333.8" stroke="#3a3a3a" stroke-width="0.8"/>
<line x1="343.51" y1="331.4" x2="343.51" y2="333.8" stroke="#3a3a3a" stroke-width="0.8"/>
<line x1="345.45" y1="331.4" x2="345.45" y2="333.8" stroke="#3a3a3a" stroke-width="0.8"/>
<line x1="347.17" y1="331.4" x2="347.17" y2="333.8" stroke="#3a3a3a" stroke-width="0.8"/>
<line x1="348.7" y1="331.4" x2="348.7" y2="335" stroke="#3a3a3a" stroke-width="0.8"/>
<line x1="358.78" y1="331.4" x2="358.78" y2="333.8" stroke="#3a3a3a" stroke-width="0.8"/>
<line x1="364.68" y1="331.4" x2="364.68" y2="333.8" stroke="#3a3a3a" stroke-width="0.8"/>
<line x1="368.87" y1="331.4" x2="368.87" y2="333.8" stroke="#3a3a3a" stroke-width="0.8"/>
<line x1="372.12" y1="331.4" x2="372.12" y2="333.8" stroke="#3a3a3a" stroke-width="0.8"/>
<line x1="374.77" y1="331.4" x2="374.77" y2="333.8" stroke="#3a3a3a" stroke-width="0.8"/>
<line x1="377.01" y1="331.4" x2="377.01" y2="333.8" stroke="#3a3a3a" stroke-width="0.8"/>
<line x1="378.95" y1="331.4" x2="378.95" y2="333.8" stroke="#3a3a3a" stroke-width="0.8"/>
<line x1="380.67" y1="331.4" x2="380.67" y2="333.8" stroke="#3a3a3a" stroke-width="0.8"/>
<line x1="382.2" y1="331.4" x2="382.2" y2="335" stroke="#3a3a3a" stroke-width="0.8"/>
<line x1="392.28" y1="331.4" x2="392.28" y2="333.8" stroke="#3a3a3a" stroke-width="0.8"/>
<line x1="398.18" y1="331.4" x2="398.18" y2="333.8" stroke="#3a3a3a" stroke-width="0.8"/>
<line x1="402.37" y1="331.4" x2="402.37" y2="333.8" stroke="#3a3a3a" stroke-width="0.8"/>
<line x1="405.62" y1="331.4" x2="405.62" y2="333.8" stroke="#3a3a3a" stroke-width="0.8"/>
<line x1="408.27" y1="331.4" x2="408.27" y2="333.8" stroke="#3a3a3a" stroke-width="0.8"/>
<line x1="410.51" y1="331.4" x2="410.51" y2="333.8" stroke="#3a3a3a" stroke-width="0.8"/>
<line x1="412.45" y1="331.4" x2="412.45" y2="333.8" stroke="#3a3a3a" stroke-width="0.8"/>
<line x1="414.17" y1="331.4" x2="414.17" y2="333.8" stroke="#3a3a3a" stroke-width="0.8"/>
<line x1="415.7" y1="331.4" x2="415.7" y2="335" stroke="#3a3a3a" stroke-width="0.8"/>
<line x1="425.78" y1="331.4" x2="425.78" y2="333.8" stroke="#3a3a3a" stroke-width="0.8"/>
<line x1="431.68" y1="331.4" x2="431.68" y2="333.8" stroke="#3a3a3a" stroke-width="0.8"/>
<line x1="435.87" y1="331.4" x2="435.87" y2="333.8" stroke="#3a3a3a" stroke-width="0.8"/>
<line x1="439.12" y1="331.4" x2="439.12" y2="333.8" stroke="#3a3a3a" stroke-width="0.8"/>
<line x1="441.77" y1="331.4" x2="441.77" y2="333.8" stroke="#3a3a3a" stroke-width="0.8"/>
<line x1="444.01" y1="331.4" x2="444.01" y2="333.8" stroke="#3a3a3a" stroke-width="0.8"/>
<line x1="445.95" y1="331.4" x2="445.95" y2="333.8" stroke="#3a3a3a" stroke-width="0.8"/>
<line x1="447.67" y1="331.4" x2="447.67" y2="333.8" stroke="#3a3a3a" stroke-width="0.8"/>
<line x1="449.2" y1="331.4" x2="449.2" y2="335" stroke="#3a3a3a" stroke-width="0.8"/>
<line x1="459.28" y1="331.4" x2="459.28" y2="333.8" stroke="#3a3a3a" stroke-width="0.8"/>
<line x1="465.18" y1="331.4" x2="465.18" y2="333.8" stroke="#3a3a3a" stroke-width="0.8"/>
<line x1="469.37" y1="331.4" x2="469.37" y2="333.8" stroke="#3a3a3a" stroke-width="0.8"/>
<line x1="472.62" y1="331.4" x2="472.62" y2="333.8" stroke="#3a3a3a" stroke-width="0.8"/>
<line x1="475.27" y1="331.4" x2="475.27" y2="333.8" stroke="#3a3a3a" stroke-width="0.8"/>
<line x1="477.51" y1="331.4" x2="477.51" y2="333.8" stroke="#3a3a3a" stroke-width="0.8"/>
<line x1="479.45" y1="331.4" x2="479.45" y2="333.8" stroke="#3a3a3a" stroke-width="0.8"/>
<line x1="481.17" y1="331.4" x2="481.17" y2="333.8" stroke="#3a3a3a" stroke-width="0.8"/>
<line x1="482.7" y1="331.4" x2="482.7" y2="335" stroke="#3a3a3a" stroke-width="0.8"/>
<text x="315.7" y="344.4" font-size="9.3" text-anchor="middle" fill="#111" stroke="#111" stroke-width="0.3">0.01</text>
<text x="348.7" y="344.4" font-size="9.3" text-anchor="middle" fill="#111" stroke="#111" stroke-width="0.3">0.1</text>
<text x="381.7" y="344.4" font-size="9.3" text-anchor="middle" fill="#111" stroke="#111" stroke-width="0.3">1</text>
<text x="416.7" y="344.4" font-size="9.3" text-anchor="middle" fill="#111" stroke="#111" stroke-width="0.3">10</text>
<text x="450.2" y="344.4" font-size="9.3" text-anchor="middle" fill="#111" stroke="#111" stroke-width="0.3">100</text>
<text x="484.7" y="344.4" font-size="9.3" text-anchor="middle" fill="#111" stroke="#111" stroke-width="0.3">1,000</text>
<text x="404" y="362.7" font-size="9.75" text-anchor="middle" fill="#111" stroke="#111" stroke-width="0.3">Veliparib (&#956;mo/L)</text>
<text transform="translate(292.7 271.85) rotate(-90)" font-size="9.9" text-anchor="middle" fill="#111" stroke="#111" stroke-width="0.3">% Control</text>
<polyline points="332.12,233.65 334.11,233.83 336.09,234.03 338.08,234.25 340.06,234.5 342.04,234.76 344.03,235.06 346.01,235.38 348,235.74 349.98,236.13 351.97,236.56 353.95,237.03 355.93,237.54 357.92,238.1 359.9,238.72 361.89,239.39 363.87,240.12 365.86,240.91 367.84,241.78 369.83,242.71 371.81,243.73 373.79,244.82 375.78,246 377.76,247.27 379.75,248.63 381.73,250.08 383.72,251.63 385.7,253.27 387.68,255.02 389.67,256.86 391.65,258.8 393.64,260.82 395.62,262.94 397.61,265.14 399.59,267.41 401.58,269.75 403.56,272.15 405.54,274.59 407.53,277.07 409.51,279.57 411.5,282.08 413.48,284.59 415.47,287.08 417.45,289.55 419.43,291.98 421.42,294.36 423.4,296.67 425.39,298.92 427.37,301.09 429.36,303.18 431.34,305.17 433.33,307.08 435.31,308.89 437.29,310.6 439.28,312.21 441.26,313.73 443.25,315.15 445.23,316.48 447.22,317.71 449.2,318.86" fill="none" stroke="#1c2048" stroke-width="1.2"/>
<polyline points="332.12,232.63 334.11,232.7 336.09,232.79 338.08,232.88 340.06,232.98 342.04,233.09 344.03,233.21 346.01,233.34 348,233.49 349.98,233.65 351.97,233.83 353.95,234.03 355.93,234.24 357.92,234.48 359.9,234.74 361.89,235.03 363.87,235.34 365.86,235.68 367.84,236.06 369.83,236.47 371.81,236.92 373.79,237.41 375.78,237.95 377.76,238.53 379.75,239.17 381.73,239.87 383.72,240.62 385.7,241.44 387.68,242.32 389.67,243.28 391.65,244.32 393.64,245.43 395.62,246.63 397.61,247.91 399.59,249.28 401.58,250.74 403.56,252.3 405.54,253.94 407.53,255.68 409.51,257.52 411.5,259.44 413.48,261.45 415.47,263.54 417.45,265.71 419.43,267.94 421.42,270.24 423.4,272.59 425.39,274.99 427.37,277.41 429.36,279.86 431.34,282.32 433.33,284.77 435.31,287.2 437.29,289.61 439.28,291.99 441.26,294.31 443.25,296.58 445.23,298.78 447.22,300.9 449.2,302.95" fill="none" stroke="#3a80aa" stroke-width="1"/>
<polyline points="332.12,232.36 334.11,232.4 336.09,232.45 338.08,232.5 340.06,232.55 342.04,232.61 344.03,232.67 346.01,232.74 348,232.82 349.98,232.9 351.97,232.99 353.95,233.08 355.93,233.19 357.92,233.31 359.9,233.43 361.89,233.57 363.87,233.71 365.86,233.88 367.84,234.05 369.83,234.24 371.81,234.45 373.79,234.67 375.78,234.91 377.76,235.18 379.75,235.46 381.73,235.77 383.72,236.1 385.7,236.47 387.68,236.86 389.67,237.28 391.65,237.74 393.64,238.24 395.62,238.77 397.61,239.34 399.59,239.96 401.58,240.63 403.56,241.34 405.54,242.11 407.53,242.93 409.51,243.8 411.5,244.74 413.48,245.74 415.47,246.8 417.45,247.93 419.43,249.13 421.42,250.4 423.4,251.74 425.39,253.15 427.37,254.63 429.36,256.18 431.34,257.8 433.33,259.5 435.31,261.25 437.29,263.08 439.28,264.96 441.26,266.89 443.25,268.88 445.23,270.91 447.22,272.98 449.2,275.09" fill="none" stroke="#6a3c8a" stroke-width="1"/>
<polyline points="332.12,231.94 334.11,231.95 336.09,231.95 338.08,231.96 340.06,231.96 342.04,231.97 344.03,231.98 346.01,231.99 348,232 349.98,232.01 351.97,232.02 353.95,232.04 355.93,232.06 357.92,232.07 359.9,232.1 361.89,232.12 363.87,232.14 365.86,232.17 367.84,232.21 369.83,232.24 371.81,232.28 373.79,232.33 375.78,232.38 377.76,232.44 379.75,232.5 381.73,232.57 383.72,232.65 385.7,232.74 387.68,232.84 389.67,232.95 391.65,233.07 393.64,233.21 395.62,233.36 397.61,233.53 399.59,233.72 401.58,233.93 403.56,234.17 405.54,234.43 407.53,234.73 409.51,235.05 411.5,235.41 413.48,235.81 415.47,236.26 417.45,236.75 419.43,237.3 421.42,237.9 423.4,238.57 425.39,239.31 427.37,240.11 429.36,241 431.34,241.98 433.33,243.04 435.31,244.2 437.29,245.47 439.28,246.84 441.26,248.32 443.25,249.92 445.23,251.64 447.22,253.48 449.2,255.44" fill="none" stroke="#c49060" stroke-width="1"/>
<polyline points="332.12,231.99 334.11,232 336.09,232.01 338.08,232.02 340.06,232.03 342.04,232.04 344.03,232.06 346.01,232.07 348,232.09 349.98,232.11 351.97,232.13 353.95,232.15 355.93,232.17 357.92,232.2 359.9,232.22 361.89,232.25 363.87,232.29 365.86,232.32 367.84,232.36 369.83,232.41 371.81,232.45 373.79,232.5 375.78,232.56 377.76,232.62 379.75,232.69 381.73,232.76 383.72,232.84 385.7,232.93 387.68,233.03 389.67,233.13 391.65,233.25 393.64,233.37 395.62,233.51 397.61,233.66 399.59,233.82 401.58,234 403.56,234.19 405.54,234.4 407.53,234.63 409.51,234.88 411.5,235.15 413.48,235.44 415.47,235.76 417.45,236.11 419.43,236.49 421.42,236.9 423.4,237.34 425.39,237.82 427.37,238.34 429.36,238.91 431.34,239.52 433.33,240.17 435.31,240.88 437.29,241.65 439.28,242.47 441.26,243.34 443.25,244.29 445.23,245.3 447.22,246.37 449.2,247.52" fill="none" stroke="#7f9c50" stroke-width="1"/>
<line x1="355.54" y1="232.89" x2="355.54" y2="238.87" stroke="#1c2048" stroke-width="0.9"/>
<line x1="352.54" y1="232.89" x2="358.54" y2="232.89" stroke="#1c2048" stroke-width="0.9"/>
<line x1="352.54" y1="238.87" x2="358.54" y2="238.87" stroke="#1c2048" stroke-width="0.9"/>
<line x1="378.95" y1="242.84" x2="378.95" y2="253.59" stroke="#1c2048" stroke-width="0.9"/>
<line x1="375.95" y1="242.84" x2="381.95" y2="242.84" stroke="#1c2048" stroke-width="0.9"/>
<line x1="375.95" y1="253.59" x2="381.95" y2="253.59" stroke="#1c2048" stroke-width="0.9"/>
<line x1="402.37" y1="258.76" x2="402.37" y2="280.65" stroke="#1c2048" stroke-width="0.9"/>
<line x1="399.37" y1="258.76" x2="405.37" y2="258.76" stroke="#1c2048" stroke-width="0.9"/>
<line x1="399.37" y1="280.65" x2="405.37" y2="280.65" stroke="#1c2048" stroke-width="0.9"/>
<line x1="425.78" y1="296.08" x2="425.78" y2="310.01" stroke="#1c2048" stroke-width="0.9"/>
<line x1="422.78" y1="296.08" x2="428.78" y2="296.08" stroke="#1c2048" stroke-width="0.9"/>
<line x1="422.78" y1="310.01" x2="428.78" y2="310.01" stroke="#1c2048" stroke-width="0.9"/>
<line x1="449.2" y1="311.4" x2="449.2" y2="317.37" stroke="#1c2048" stroke-width="0.9"/>
<line x1="446.2" y1="311.4" x2="452.2" y2="311.4" stroke="#1c2048" stroke-width="0.9"/>
<line x1="446.2" y1="317.37" x2="452.2" y2="317.37" stroke="#1c2048" stroke-width="0.9"/>
<circle cx="332.12" cy="232.89" r="2.75" fill="#161a48"/>
<circle cx="355.54" cy="235.88" r="2.75" fill="#161a48"/>
<circle cx="378.95" cy="248.22" r="2.75" fill="#161a48"/>
<circle cx="402.37" cy="269.71" r="2.75" fill="#161a48"/>
<circle cx="425.78" cy="303.04" r="2.75" fill="#161a48"/>
<circle cx="449.2" cy="314.39" r="2.75" fill="#161a48"/>
<line x1="402.37" y1="245.73" x2="402.37" y2="251.7" stroke="#3a80aa" stroke-width="0.9"/>
<line x1="399.37" y1="245.73" x2="405.37" y2="245.73" stroke="#3a80aa" stroke-width="0.9"/>
<line x1="399.37" y1="251.7" x2="405.37" y2="251.7" stroke="#3a80aa" stroke-width="0.9"/>
<line x1="425.78" y1="273.19" x2="425.78" y2="285.73" stroke="#3a80aa" stroke-width="0.9"/>
<line x1="422.78" y1="273.19" x2="428.78" y2="273.19" stroke="#3a80aa" stroke-width="0.9"/>
<line x1="422.78" y1="285.73" x2="428.78" y2="285.73" stroke="#3a80aa" stroke-width="0.9"/>
<line x1="449.2" y1="298.37" x2="449.2" y2="302.35" stroke="#3a80aa" stroke-width="0.9"/>
<line x1="446.2" y1="298.37" x2="452.2" y2="298.37" stroke="#3a80aa" stroke-width="0.9"/>
<line x1="446.2" y1="302.35" x2="452.2" y2="302.35" stroke="#3a80aa" stroke-width="0.9"/>
<rect x="329.37" y="229.15" width="5.5" height="5.5" fill="#2088c2"/>
<rect x="352.79" y="230.14" width="5.5" height="5.5" fill="#2088c2"/>
<rect x="376.2" y="236.11" width="5.5" height="5.5" fill="#2088c2"/>
<rect x="399.62" y="245.97" width="5.5" height="5.5" fill="#2088c2"/>
<rect x="423.03" y="276.71" width="5.5" height="5.5" fill="#2088c2"/>
<rect x="446.45" y="297.61" width="5.5" height="5.5" fill="#2088c2"/>
<line x1="425.78" y1="247.22" x2="425.78" y2="261.15" stroke="#6a3c8a" stroke-width="0.9"/>
<line x1="422.78" y1="247.22" x2="428.78" y2="247.22" stroke="#6a3c8a" stroke-width="0.9"/>
<line x1="422.78" y1="261.15" x2="428.78" y2="261.15" stroke="#6a3c8a" stroke-width="0.9"/>
<line x1="449.2" y1="270.41" x2="449.2" y2="279.16" stroke="#6a3c8a" stroke-width="0.9"/>
<line x1="446.2" y1="270.41" x2="452.2" y2="270.41" stroke="#6a3c8a" stroke-width="0.9"/>
<line x1="446.2" y1="279.16" x2="452.2" y2="279.16" stroke="#6a3c8a" stroke-width="0.9"/>
<path d="M332.12 229.01L335.15 234.24L329.1 234.24Z" fill="#6a2896"/>
<path d="M355.54 229.01L358.56 234.24L352.51 234.24Z" fill="#6a2896"/>
<path d="M378.95 232.99L381.98 238.22L375.93 238.22Z" fill="#6a2896"/>
<path d="M402.37 237.37L405.39 242.6L399.34 242.6Z" fill="#6a2896"/>
<path d="M425.78 251.3L428.81 256.53L422.76 256.53Z" fill="#6a2896"/>
<path d="M449.2 271.9L452.22 277.12L446.18 277.12Z" fill="#6a2896"/>
<path d="M332.12 234.79L335.15 229.56L329.1 229.56Z" fill="#e2902f"/>
<path d="M355.54 234.79L358.56 229.56L352.51 229.56Z" fill="#e2902f"/>
<path d="M378.95 235.78L381.98 230.56L375.93 230.56Z" fill="#e2902f"/>
<path d="M402.37 238.77L405.39 233.54L399.34 233.54Z" fill="#e2902f"/>
<path d="M425.78 241.16L428.81 235.93L422.76 235.93Z" fill="#e2902f"/>
<path d="M449.2 258.57L452.22 253.34L446.18 253.34Z" fill="#e2902f"/>
<line x1="449.2" y1="239.96" x2="449.2" y2="255.28" stroke="#7f9c50" stroke-width="0.9"/>
<line x1="446.2" y1="239.96" x2="452.2" y2="239.96" stroke="#7f9c50" stroke-width="0.9"/>
<line x1="446.2" y1="255.28" x2="452.2" y2="255.28" stroke="#7f9c50" stroke-width="0.9"/>
<path d="M332.12 233.57L335.42 236.87L332.12 240.17L328.82 236.87Z" fill="#8db43a"/>
<path d="M355.54 228.6L358.84 231.9L355.54 235.2L352.24 231.9Z" fill="#8db43a"/>
<path d="M378.95 228.6L382.25 231.9L378.95 235.2L375.65 231.9Z" fill="#8db43a"/>
<path d="M402.37 231.19L405.67 234.49L402.37 237.79L399.07 234.49Z" fill="#8db43a"/>
<path d="M425.78 234.27L429.08 237.57L425.78 240.87L422.48 237.57Z" fill="#8db43a"/>
<path d="M449.2 244.32L452.5 247.62L449.2 250.92L445.9 247.62Z" fill="#8db43a"/>
<line x1="470.9" y1="220.4" x2="483.9" y2="220.4" stroke="#161a48" stroke-width="1.1"/>
<circle cx="477.4" cy="220.4" r="2.8" fill="#161a48"/>
<text x="491.9" y="223.7" font-size="9.2" text-anchor="start" fill="#161a48" stroke="#161a48" stroke-width="0.3">120 hr</text>
<line x1="470.9" y1="234.3" x2="483.9" y2="234.3" stroke="#2088c2" stroke-width="1.1"/>
<rect x="474.6" y="231.5" width="5.6" height="5.6" fill="#2088c2"/>
<text x="491.9" y="237.6" font-size="9.2" text-anchor="start" fill="#2088c2" stroke="#2088c2" stroke-width="0.22">96 hr</text>
<line x1="470.9" y1="248.2" x2="483.9" y2="248.2" stroke="#6a2896" stroke-width="1.1"/>
<path d="M477.4 245.26L480.48 250.58L474.32 250.58Z" fill="#6a2896"/>
<text x="491.9" y="251.5" font-size="9.2" text-anchor="start" fill="#6a2896" stroke="#6a2896" stroke-width="0.22">72 hr</text>
<line x1="470.9" y1="261.3" x2="483.9" y2="261.3" stroke="#e2902f" stroke-width="1.1"/>
<path d="M477.4 264.24L480.48 258.92L474.32 258.92Z" fill="#e2902f"/>
<text x="491.9" y="264.6" font-size="9.2" text-anchor="start" fill="#e2902f" stroke="#e2902f" stroke-width="0.22">48 hr</text>
<line x1="470.9" y1="274.9" x2="483.9" y2="274.9" stroke="#8db43a" stroke-width="1.1"/>
<path d="M477.4 271.54L480.76 274.9L477.4 278.26L474.04 274.9Z" fill="#8db43a"/>
<text x="491.9" y="278.2" font-size="9.2" text-anchor="start" fill="#8db43a" stroke="#8db43a" stroke-width="0.22">24 hr</text>
<text x="286.7" y="379.2" font-size="14.5" text-anchor="start" fill="#111" stroke="#111" stroke-width="0.3">F</text>
<line x1="313.6" y1="393.7" x2="313.6" y2="513.1" stroke="#3a3a3a" stroke-width="1.1"/>
<line x1="313.6" y1="513.1" x2="481.1" y2="513.1" stroke="#3a3a3a" stroke-width="1.1"/>
<line x1="310.3" y1="513.1" x2="313.6" y2="513.1" stroke="#3a3a3a" stroke-width="1"/>
<text x="309.4" y="515.8" font-size="9.3" text-anchor="end" fill="#111" stroke="#111" stroke-width="0.3">0</text>
<line x1="310.3" y1="493.2" x2="313.6" y2="493.2" stroke="#3a3a3a" stroke-width="1"/>
<text x="309.4" y="495.9" font-size="9.3" text-anchor="end" fill="#111" stroke="#111" stroke-width="0.3">20</text>
<line x1="310.3" y1="473.3" x2="313.6" y2="473.3" stroke="#3a3a3a" stroke-width="1"/>
<text x="309.4" y="476" font-size="9.3" text-anchor="end" fill="#111" stroke="#111" stroke-width="0.3">40</text>
<line x1="310.3" y1="453.4" x2="313.6" y2="453.4" stroke="#3a3a3a" stroke-width="1"/>
<text x="309.4" y="456.1" font-size="9.3" text-anchor="end" fill="#111" stroke="#111" stroke-width="0.3">60</text>
<line x1="310.3" y1="433.5" x2="313.6" y2="433.5" stroke="#3a3a3a" stroke-width="1"/>
<text x="309.4" y="436.2" font-size="9.3" text-anchor="end" fill="#111" stroke="#111" stroke-width="0.3">80</text>
<line x1="310.3" y1="413.6" x2="313.6" y2="413.6" stroke="#3a3a3a" stroke-width="1"/>
<text x="309.4" y="416.3" font-size="9.3" text-anchor="end" fill="#111" stroke="#111" stroke-width="0.3">100</text>
<line x1="310.3" y1="393.7" x2="313.6" y2="393.7" stroke="#3a3a3a" stroke-width="1"/>
<text x="309.4" y="396.4" font-size="9.3" text-anchor="end" fill="#111" stroke="#111" stroke-width="0.3">120</text>
<line x1="313.6" y1="513.1" x2="313.6" y2="516.7" stroke="#3a3a3a" stroke-width="0.8"/>
<line x1="323.68" y1="513.1" x2="323.68" y2="515.5" stroke="#3a3a3a" stroke-width="0.8"/>
<line x1="329.58" y1="513.1" x2="329.58" y2="515.5" stroke="#3a3a3a" stroke-width="0.8"/>
<line x1="333.77" y1="513.1" x2="333.77" y2="515.5" stroke="#3a3a3a" stroke-width="0.8"/>
<line x1="337.02" y1="513.1" x2="337.02" y2="515.5" stroke="#3a3a3a" stroke-width="0.8"/>
<line x1="339.67" y1="513.1" x2="339.67" y2="515.5" stroke="#3a3a3a" stroke-width="0.8"/>
<line x1="341.91" y1="513.1" x2="341.91" y2="515.5" stroke="#3a3a3a" stroke-width="0.8"/>
<line x1="343.85" y1="513.1" x2="343.85" y2="515.5" stroke="#3a3a3a" stroke-width="0.8"/>
<line x1="345.57" y1="513.1" x2="345.57" y2="515.5" stroke="#3a3a3a" stroke-width="0.8"/>
<line x1="347.1" y1="513.1" x2="347.1" y2="516.7" stroke="#3a3a3a" stroke-width="0.8"/>
<line x1="357.18" y1="513.1" x2="357.18" y2="515.5" stroke="#3a3a3a" stroke-width="0.8"/>
<line x1="363.08" y1="513.1" x2="363.08" y2="515.5" stroke="#3a3a3a" stroke-width="0.8"/>
<line x1="367.27" y1="513.1" x2="367.27" y2="515.5" stroke="#3a3a3a" stroke-width="0.8"/>
<line x1="370.52" y1="513.1" x2="370.52" y2="515.5" stroke="#3a3a3a" stroke-width="0.8"/>
<line x1="373.17" y1="513.1" x2="373.17" y2="515.5" stroke="#3a3a3a" stroke-width="0.8"/>
<line x1="375.41" y1="513.1" x2="375.41" y2="515.5" stroke="#3a3a3a" stroke-width="0.8"/>
<line x1="377.35" y1="513.1" x2="377.35" y2="515.5" stroke="#3a3a3a" stroke-width="0.8"/>
<line x1="379.07" y1="513.1" x2="379.07" y2="515.5" stroke="#3a3a3a" stroke-width="0.8"/>
<line x1="380.6" y1="513.1" x2="380.6" y2="516.7" stroke="#3a3a3a" stroke-width="0.8"/>
<line x1="390.68" y1="513.1" x2="390.68" y2="515.5" stroke="#3a3a3a" stroke-width="0.8"/>
<line x1="396.58" y1="513.1" x2="396.58" y2="515.5" stroke="#3a3a3a" stroke-width="0.8"/>
<line x1="400.77" y1="513.1" x2="400.77" y2="515.5" stroke="#3a3a3a" stroke-width="0.8"/>
<line x1="404.02" y1="513.1" x2="404.02" y2="515.5" stroke="#3a3a3a" stroke-width="0.8"/>
<line x1="406.67" y1="513.1" x2="406.67" y2="515.5" stroke="#3a3a3a" stroke-width="0.8"/>
<line x1="408.91" y1="513.1" x2="408.91" y2="515.5" stroke="#3a3a3a" stroke-width="0.8"/>
<line x1="410.85" y1="513.1" x2="410.85" y2="515.5" stroke="#3a3a3a" stroke-width="0.8"/>
<line x1="412.57" y1="513.1" x2="412.57" y2="515.5" stroke="#3a3a3a" stroke-width="0.8"/>
<line x1="414.1" y1="513.1" x2="414.1" y2="516.7" stroke="#3a3a3a" stroke-width="0.8"/>
<line x1="424.18" y1="513.1" x2="424.18" y2="515.5" stroke="#3a3a3a" stroke-width="0.8"/>
<line x1="430.08" y1="513.1" x2="430.08" y2="515.5" stroke="#3a3a3a" stroke-width="0.8"/>
<line x1="434.27" y1="513.1" x2="434.27" y2="515.5" stroke="#3a3a3a" stroke-width="0.8"/>
<line x1="437.52" y1="513.1" x2="437.52" y2="515.5" stroke="#3a3a3a" stroke-width="0.8"/>
<line x1="440.17" y1="513.1" x2="440.17" y2="515.5" stroke="#3a3a3a" stroke-width="0.8"/>
<line x1="442.41" y1="513.1" x2="442.41" y2="515.5" stroke="#3a3a3a" stroke-width="0.8"/>
<line x1="444.35" y1="513.1" x2="444.35" y2="515.5" stroke="#3a3a3a" stroke-width="0.8"/>
<line x1="446.07" y1="513.1" x2="446.07" y2="515.5" stroke="#3a3a3a" stroke-width="0.8"/>
<line x1="447.6" y1="513.1" x2="447.6" y2="516.7" stroke="#3a3a3a" stroke-width="0.8"/>
<line x1="457.68" y1="513.1" x2="457.68" y2="515.5" stroke="#3a3a3a" stroke-width="0.8"/>
<line x1="463.58" y1="513.1" x2="463.58" y2="515.5" stroke="#3a3a3a" stroke-width="0.8"/>
<line x1="467.77" y1="513.1" x2="467.77" y2="515.5" stroke="#3a3a3a" stroke-width="0.8"/>
<line x1="471.02" y1="513.1" x2="471.02" y2="515.5" stroke="#3a3a3a" stroke-width="0.8"/>
<line x1="473.67" y1="513.1" x2="473.67" y2="515.5" stroke="#3a3a3a" stroke-width="0.8"/>
<line x1="475.91" y1="513.1" x2="475.91" y2="515.5" stroke="#3a3a3a" stroke-width="0.8"/>
<line x1="477.85" y1="513.1" x2="477.85" y2="515.5" stroke="#3a3a3a" stroke-width="0.8"/>
<line x1="479.57" y1="513.1" x2="479.57" y2="515.5" stroke="#3a3a3a" stroke-width="0.8"/>
<line x1="481.1" y1="513.1" x2="481.1" y2="516.7" stroke="#3a3a3a" stroke-width="0.8"/>
<text x="314.6" y="526.4" font-size="9.3" text-anchor="middle" fill="#111" stroke="#111" stroke-width="0.3">0.01</text>
<text x="347.1" y="526.4" font-size="9.3" text-anchor="middle" fill="#111" stroke="#111" stroke-width="0.3">0.1</text>
<text x="379.1" y="526.4" font-size="9.3" text-anchor="middle" fill="#111" stroke="#111" stroke-width="0.3">1</text>
<text x="414.6" y="526.4" font-size="9.3" text-anchor="middle" fill="#111" stroke="#111" stroke-width="0.3">10</text>
<text x="448.6" y="526.4" font-size="9.3" text-anchor="middle" fill="#111" stroke="#111" stroke-width="0.3">100</text>
<text x="483.1" y="526.4" font-size="9.3" text-anchor="middle" fill="#111" stroke="#111" stroke-width="0.3">1,000</text>
<text x="402.3" y="541.9" font-size="9.75" text-anchor="middle" fill="#111" stroke="#111" stroke-width="0.3">Veliparib (&#956;mo/L)</text>
<text transform="translate(290 453.4) rotate(-90)" font-size="9.9" text-anchor="middle" fill="#111" stroke="#111" stroke-width="0.3">% Control</text>
<polyline points="330.52,414.6 332.51,414.7 334.49,414.81 336.48,414.93 338.46,415.07 340.44,415.22 342.43,415.38 344.41,415.56 346.4,415.76 348.38,415.97 350.37,416.21 352.35,416.47 354.33,416.76 356.32,417.07 358.3,417.41 360.29,417.79 362.27,418.2 364.26,418.65 366.24,419.14 368.23,419.68 370.21,420.26 372.19,420.9 374.18,421.59 376.16,422.34 378.15,423.15 380.13,424.03 382.12,424.98 384.1,426.01 386.08,427.11 388.07,428.29 390.05,429.56 392.04,430.92 394.02,432.37 396.01,433.9 397.99,435.53 399.98,437.25 401.96,439.06 403.94,440.96 405.93,442.95 407.91,445.02 409.9,447.16 411.88,449.37 413.87,451.64 415.85,453.97 417.83,456.34 419.82,458.74 421.8,461.17 423.79,463.6 425.77,466.04 427.76,468.46 429.74,470.85 431.73,473.22 433.71,475.53 435.69,477.79 437.68,479.99 439.66,482.12 441.65,484.17 443.63,486.14 445.62,488.02 447.6,489.81" fill="none" stroke="#1c2048" stroke-width="1.2"/>
<polyline points="330.52,413.79 332.51,413.81 334.49,413.84 336.48,413.86 338.46,413.9 340.44,413.93 342.43,413.97 344.41,414.01 346.4,414.06 348.38,414.12 350.37,414.18 352.35,414.25 354.33,414.32 356.32,414.41 358.3,414.5 360.29,414.61 362.27,414.73 364.26,414.86 366.24,415.01 368.23,415.17 370.21,415.36 372.19,415.56 374.18,415.79 376.16,416.04 378.15,416.32 380.13,416.64 382.12,416.99 384.1,417.37 386.08,417.8 388.07,418.28 390.05,418.81 392.04,419.39 394.02,420.03 396.01,420.74 397.99,421.53 399.98,422.38 401.96,423.33 403.94,424.36 405.93,425.48 407.91,426.71 409.9,428.04 411.88,429.49 413.87,431.04 415.85,432.72 417.83,434.51 419.82,436.43 421.8,438.46 423.79,440.62 425.77,442.88 427.76,445.26 429.74,447.73 431.73,450.29 433.71,452.93 435.69,455.63 437.68,458.38 439.66,461.15 441.65,463.95 443.63,466.74 445.62,469.5 447.6,472.23" fill="none" stroke="#3a80aa" stroke-width="1"/>
<polyline points="330.52,413.89 332.51,413.92 334.49,413.95 336.48,413.98 338.46,414.02 340.44,414.05 342.43,414.1 344.41,414.14 346.4,414.19 348.38,414.24 350.37,414.3 352.35,414.37 354.33,414.44 356.32,414.51 358.3,414.59 360.29,414.68 362.27,414.78 364.26,414.89 366.24,415 368.23,415.13 370.21,415.27 372.19,415.42 374.18,415.58 376.16,415.76 378.15,415.95 380.13,416.16 382.12,416.39 384.1,416.64 386.08,416.91 388.07,417.2 390.05,417.51 392.04,417.86 394.02,418.23 396.01,418.63 397.99,419.06 399.98,419.53 401.96,420.04 403.94,420.59 405.93,421.18 407.91,421.81 409.9,422.5 411.88,423.23 413.87,424.02 415.85,424.87 417.83,425.77 419.82,426.74 421.8,427.77 423.79,428.87 425.77,430.03 427.76,431.27 429.74,432.58 431.73,433.96 433.71,435.41 435.69,436.94 437.68,438.54 439.66,440.21 441.65,441.95 443.63,443.76 445.62,445.63 447.6,447.56" fill="none" stroke="#6a3c8a" stroke-width="1"/>
<polyline points="330.52,413.66 332.51,413.66 334.49,413.67 336.48,413.68 338.46,413.68 340.44,413.69 342.43,413.7 344.41,413.72 346.4,413.73 348.38,413.74 350.37,413.76 352.35,413.78 354.33,413.8 356.32,413.82 358.3,413.84 360.29,413.87 362.27,413.9 364.26,413.93 366.24,413.97 368.23,414.01 370.21,414.05 372.19,414.1 374.18,414.15 376.16,414.21 378.15,414.28 380.13,414.36 382.12,414.44 384.1,414.53 386.08,414.63 388.07,414.74 390.05,414.87 392.04,415.01 394.02,415.16 396.01,415.33 397.99,415.52 399.98,415.72 401.96,415.95 403.94,416.2 405.93,416.48 407.91,416.79 409.9,417.13 411.88,417.5 413.87,417.91 415.85,418.36 417.83,418.86 419.82,419.4 421.8,420 423.79,420.66 425.77,421.37 427.76,422.16 429.74,423.01 431.73,423.94 433.71,424.95 435.69,426.04 437.68,427.23 439.66,428.5 441.65,429.88 443.63,431.35 445.62,432.92 447.6,434.6" fill="none" stroke="#c49060" stroke-width="1"/>
<polyline points="330.52,415.59 332.51,415.59 334.49,415.59 336.48,415.59 338.46,415.59 340.44,415.59 342.43,415.59 344.41,415.59 346.4,415.59 348.38,415.59 350.37,415.59 352.35,415.59 354.33,415.59 356.32,415.59 358.3,415.59 360.29,415.59 362.27,415.59 364.26,415.59 366.24,415.59 368.23,415.59 370.21,415.59 372.19,415.59 374.18,415.59 376.16,415.59 378.15,415.59 380.13,415.59 382.12,415.59 384.1,415.59 386.08,415.59 388.07,415.59 390.05,415.59 392.04,415.59 394.02,415.59 396.01,415.59 397.99,415.59 399.98,415.59 401.96,415.59 403.94,415.59 405.93,415.59 407.91,415.59 409.9,415.59 411.88,415.59 413.87,415.59 415.85,415.59 417.83,415.59 419.82,415.59 421.8,415.59 423.79,415.59 425.77,415.59 427.76,415.59 429.74,415.59 431.73,415.59 433.71,415.59 435.69,415.59 437.68,415.59 439.66,415.59 441.65,415.59 443.63,415.59 445.62,415.59 447.6,415.59" fill="none" stroke="#7f9c50" stroke-width="1"/>
<line x1="377.35" y1="416.78" x2="377.35" y2="430.32" stroke="#1c2048" stroke-width="0.9"/>
<line x1="374.35" y1="416.78" x2="380.35" y2="416.78" stroke="#1c2048" stroke-width="0.9"/>
<line x1="374.35" y1="430.32" x2="380.35" y2="430.32" stroke="#1c2048" stroke-width="0.9"/>
<line x1="400.77" y1="428.82" x2="400.77" y2="446.73" stroke="#1c2048" stroke-width="0.9"/>
<line x1="397.77" y1="428.82" x2="403.77" y2="428.82" stroke="#1c2048" stroke-width="0.9"/>
<line x1="397.77" y1="446.73" x2="403.77" y2="446.73" stroke="#1c2048" stroke-width="0.9"/>
<line x1="424.18" y1="450.22" x2="424.18" y2="479.47" stroke="#1c2048" stroke-width="0.9"/>
<line x1="421.18" y1="450.22" x2="427.18" y2="450.22" stroke="#1c2048" stroke-width="0.9"/>
<line x1="421.18" y1="479.47" x2="427.18" y2="479.47" stroke="#1c2048" stroke-width="0.9"/>
<line x1="447.6" y1="480.46" x2="447.6" y2="497.58" stroke="#1c2048" stroke-width="0.9"/>
<line x1="444.6" y1="480.46" x2="450.6" y2="480.46" stroke="#1c2048" stroke-width="0.9"/>
<line x1="444.6" y1="497.58" x2="450.6" y2="497.58" stroke="#1c2048" stroke-width="0.9"/>
<circle cx="330.52" cy="413.6" r="2.75" fill="#161a48"/>
<circle cx="353.94" cy="414.6" r="2.75" fill="#161a48"/>
<circle cx="377.35" cy="423.55" r="2.75" fill="#161a48"/>
<circle cx="400.77" cy="437.78" r="2.75" fill="#161a48"/>
<circle cx="424.18" cy="464.84" r="2.75" fill="#161a48"/>
<circle cx="447.6" cy="489.02" r="2.75" fill="#161a48"/>
<line x1="424.18" y1="431.31" x2="424.18" y2="452.21" stroke="#3a80aa" stroke-width="0.9"/>
<line x1="421.18" y1="431.31" x2="427.18" y2="431.31" stroke="#3a80aa" stroke-width="0.9"/>
<line x1="421.18" y1="452.21" x2="427.18" y2="452.21" stroke="#3a80aa" stroke-width="0.9"/>
<line x1="447.6" y1="462.55" x2="447.6" y2="481.06" stroke="#3a80aa" stroke-width="0.9"/>
<line x1="444.6" y1="462.55" x2="450.6" y2="462.55" stroke="#3a80aa" stroke-width="0.9"/>
<line x1="444.6" y1="481.06" x2="450.6" y2="481.06" stroke="#3a80aa" stroke-width="0.9"/>
<rect x="327.77" y="410.85" width="5.5" height="5.5" fill="#2088c2"/>
<rect x="351.19" y="409.86" width="5.5" height="5.5" fill="#2088c2"/>
<rect x="374.6" y="411.85" width="5.5" height="5.5" fill="#2088c2"/>
<rect x="398.02" y="420.2" width="5.5" height="5.5" fill="#2088c2"/>
<rect x="421.43" y="439.01" width="5.5" height="5.5" fill="#2088c2"/>
<rect x="444.85" y="469.06" width="5.5" height="5.5" fill="#2088c2"/>
<line x1="447.6" y1="439.67" x2="447.6" y2="456.58" stroke="#6a3c8a" stroke-width="0.9"/>
<line x1="444.6" y1="439.67" x2="450.6" y2="439.67" stroke="#6a3c8a" stroke-width="0.9"/>
<line x1="444.6" y1="456.58" x2="450.6" y2="456.58" stroke="#6a3c8a" stroke-width="0.9"/>
<path d="M330.52 409.72L333.55 414.94L327.5 414.94Z" fill="#6a2896"/>
<path d="M353.94 410.71L356.96 415.94L350.91 415.94Z" fill="#6a2896"/>
<path d="M377.35 411.71L380.38 416.93L374.33 416.93Z" fill="#6a2896"/>
<path d="M400.77 420.66L403.79 425.89L397.74 425.89Z" fill="#6a2896"/>
<path d="M424.18 423.85L427.21 429.07L421.16 429.07Z" fill="#6a2896"/>
<path d="M447.6 445.24L450.62 450.46L444.58 450.46Z" fill="#6a2896"/>
<line x1="400.77" y1="411.61" x2="400.77" y2="419.57" stroke="#c49060" stroke-width="0.9"/>
<line x1="397.77" y1="411.61" x2="403.77" y2="411.61" stroke="#c49060" stroke-width="0.9"/>
<line x1="397.77" y1="419.57" x2="403.77" y2="419.57" stroke="#c49060" stroke-width="0.9"/>
<line x1="447.6" y1="431.61" x2="447.6" y2="437.58" stroke="#c49060" stroke-width="0.9"/>
<line x1="444.6" y1="431.61" x2="450.6" y2="431.61" stroke="#c49060" stroke-width="0.9"/>
<line x1="444.6" y1="437.58" x2="450.6" y2="437.58" stroke="#c49060" stroke-width="0.9"/>
<path d="M330.52 416.49L333.55 411.26L327.5 411.26Z" fill="#e2902f"/>
<path d="M353.94 416.49L356.96 411.26L350.91 411.26Z" fill="#e2902f"/>
<path d="M377.35 417.48L380.38 412.26L374.33 412.26Z" fill="#e2902f"/>
<path d="M400.77 418.48L403.79 413.25L397.74 413.25Z" fill="#e2902f"/>
<path d="M424.18 423.75L427.21 418.53L421.16 418.53Z" fill="#e2902f"/>
<path d="M447.6 437.48L450.62 432.26L444.58 432.26Z" fill="#e2902f"/>
<path d="M330.52 417.27L333.82 420.57L330.52 423.87L327.22 420.57Z" fill="#8db43a"/>
<path d="M353.94 414.28L357.24 417.58L353.94 420.88L350.64 417.58Z" fill="#8db43a"/>
<path d="M377.35 412.29L380.65 415.59L377.35 418.89L374.05 415.59Z" fill="#8db43a"/>
<path d="M400.77 411.3L404.07 414.6L400.77 417.9L397.47 414.6Z" fill="#8db43a"/>
<path d="M424.18 410.3L427.48 413.6L424.18 416.9L420.88 413.6Z" fill="#8db43a"/>
<path d="M447.6 416.57L450.9 419.87L447.6 423.17L444.3 419.87Z" fill="#8db43a"/>
<line x1="468.5" y1="401.8" x2="481.5" y2="401.8" stroke="#161a48" stroke-width="1.1"/>
<circle cx="475" cy="401.8" r="2.8" fill="#161a48"/>
<text x="489.5" y="405.1" font-size="9.2" text-anchor="start" fill="#161a48" stroke="#161a48" stroke-width="0.3">120 hr</text>
<line x1="468.5" y1="415.7" x2="481.5" y2="415.7" stroke="#2088c2" stroke-width="1.1"/>
<rect x="472.2" y="412.9" width="5.6" height="5.6" fill="#2088c2"/>
<text x="489.5" y="419" font-size="9.2" text-anchor="start" fill="#2088c2" stroke="#2088c2" stroke-width="0.22">96 hr</text>
<line x1="468.5" y1="428.9" x2="481.5" y2="428.9" stroke="#6a2896" stroke-width="1.1"/>
<path d="M475 425.96L478.08 431.28L471.92 431.28Z" fill="#6a2896"/>
<text x="489.5" y="432.2" font-size="9.2" text-anchor="start" fill="#6a2896" stroke="#6a2896" stroke-width="0.22">72 hr</text>
<line x1="468.5" y1="442.8" x2="481.5" y2="442.8" stroke="#e2902f" stroke-width="1.1"/>
<path d="M475 445.74L478.08 440.42L471.92 440.42Z" fill="#e2902f"/>
<text x="489.5" y="446.1" font-size="9.2" text-anchor="start" fill="#e2902f" stroke="#e2902f" stroke-width="0.22">48 hr</text>
<line x1="468.5" y1="456.7" x2="481.5" y2="456.7" stroke="#8db43a" stroke-width="1.1"/>
<path d="M475 453.34L478.36 456.7L475 460.06L471.64 456.7Z" fill="#8db43a"/>
<text x="489.5" y="460" font-size="9.2" text-anchor="start" fill="#8db43a" stroke="#8db43a" stroke-width="0.22">24 hr</text>
</svg></body></html>
